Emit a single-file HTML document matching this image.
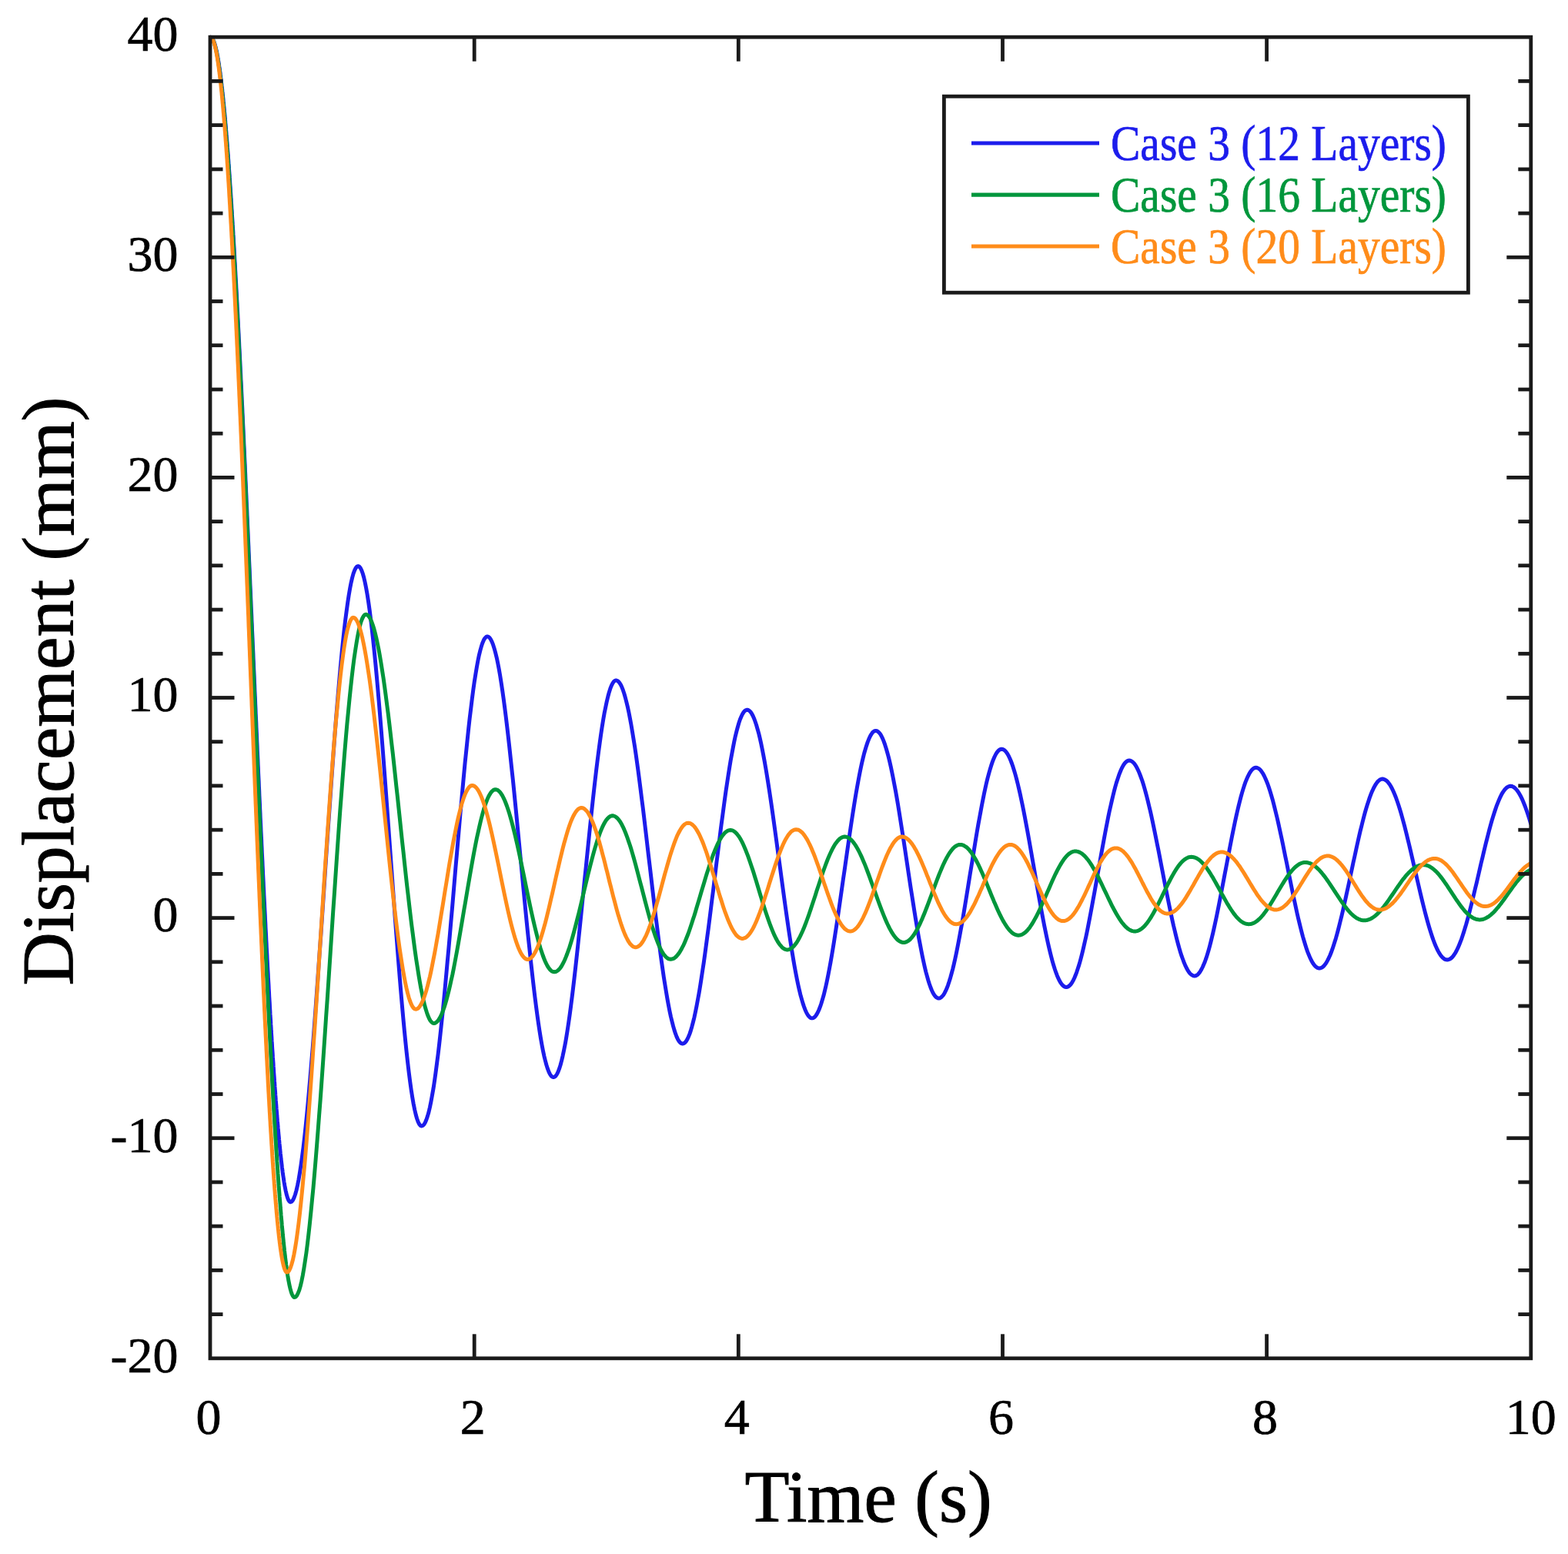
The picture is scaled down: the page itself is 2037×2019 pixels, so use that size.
<!DOCTYPE html>
<html><head><meta charset="utf-8"><title>Displacement vs Time</title>
<style>html,body{margin:0;padding:0;background:#fff;}body{width:2037px;height:2019px;overflow:hidden;}svg{display:block;}</style>
</head><body>
<svg width="2037" height="2019" viewBox="0 0 2037 2019">
<rect x="0" y="0" width="2037" height="2019" fill="#fff"/>
<defs><clipPath id="pc"><rect x="273.0" y="45.2" width="1715.8" height="1722.6"/></clipPath></defs>
<g clip-path="url(#pc)" fill="none" stroke-width="5" stroke-linejoin="round" stroke-linecap="round">
<polyline stroke="#1c1cec" points="273.0,48.2 273.3,48.2 273.5,48.3 273.8,48.3 274.0,48.4 274.3,48.6 274.6,48.8 274.8,49.0 275.1,49.2 275.3,49.5 275.6,49.8 275.9,50.2 276.1,50.6 276.4,51.0 276.7,51.5 276.9,52.0 277.2,52.5 277.4,53.1 277.7,53.7 278.0,54.4 278.2,55.1 278.5,55.9 278.7,56.6 279.0,57.5 279.3,58.3 279.5,59.2 279.8,60.2 280.0,61.2 280.3,62.2 280.6,63.2 280.8,64.4 281.1,65.5 281.4,66.7 281.6,67.9 281.9,69.2 282.1,70.5 282.4,71.9 282.7,73.2 282.9,74.7 283.2,76.2 283.4,77.7 283.7,79.2 284.0,80.8 284.2,82.5 284.5,84.1 284.7,85.9 285.0,87.6 285.3,89.4 285.5,91.3 285.8,93.2 286.1,95.1 286.3,97.1 286.6,99.1 286.8,101.1 287.1,103.2 287.4,105.4 287.6,107.5 287.9,109.8 288.1,112.0 288.4,114.3 288.7,116.6 288.9,119.0 289.2,121.4 289.4,123.9 289.7,126.4 290.0,128.9 290.2,131.5 290.5,134.2 290.7,136.8 291.0,139.5 291.3,142.3 291.5,145.0 291.8,147.9 292.1,150.7 292.3,153.6 292.6,156.6 292.8,159.5 293.1,162.6 293.4,165.6 293.6,168.7 293.9,171.8 294.1,175.0 294.4,178.2 294.7,181.5 294.9,184.8 295.2,188.1 295.4,191.5 295.7,194.9 296.0,198.3 296.2,201.8 296.5,205.3 296.8,208.9 297.0,212.4 297.3,216.1 297.5,219.7 297.8,223.4 298.1,227.2 298.3,230.9 298.6,234.7 298.8,238.6 299.1,242.5 299.4,246.4 299.6,250.3 299.9,254.3 300.1,258.3 300.4,262.4 300.7,266.5 300.9,270.6 301.2,274.7 301.4,278.9 301.7,283.1 302.0,287.4 302.2,291.7 302.5,296.0 302.8,300.3 303.0,304.7 303.3,309.1 303.5,313.6 303.8,318.1 304.1,322.6 304.3,327.1 304.6,331.7 304.8,336.3 305.1,340.9 305.4,345.6 305.6,350.3 305.9,355.0 306.1,359.8 306.4,364.5 306.7,369.3 306.9,374.2 307.2,379.0 307.5,383.9 307.7,388.9 308.0,393.8 308.2,398.8 308.5,403.8 308.8,408.8 309.0,413.9 309.3,418.9 309.5,424.0 309.8,429.2 310.1,434.3 310.3,439.5 310.6,444.7 310.8,449.9 311.1,455.2 311.4,460.5 311.6,465.8 311.9,471.1 312.1,476.4 312.4,481.8 312.7,487.2 312.9,492.6 313.2,498.0 313.5,503.4 313.7,508.9 314.0,514.4 314.2,519.9 314.5,525.4 314.8,531.0 315.0,536.6 315.3,542.1 315.5,547.7 315.8,553.4 316.1,559.0 316.3,564.7 316.6,570.3 316.8,576.0 317.1,581.7 317.4,587.4 317.6,593.2 317.9,598.9 318.2,604.7 318.4,610.5 318.7,616.3 318.9,622.1 319.2,627.9 319.5,633.7 319.7,639.6 320.0,645.4 320.2,651.3 320.5,657.2 320.8,663.0 321.0,668.9 321.3,674.9 321.5,680.8 321.8,686.7 322.1,692.6 322.3,698.6 322.6,704.6 322.9,710.5 323.1,716.5 323.4,722.5 323.6,728.4 323.9,734.4 324.2,740.4 324.4,746.4 324.7,752.4 324.9,758.5 325.2,764.5 325.5,770.5 325.7,776.5 326.0,782.6 326.2,788.6 326.5,794.6 326.8,800.7 327.0,806.7 327.3,812.7 327.5,818.8 327.8,824.8 328.1,830.9 328.3,836.9 328.6,842.9 328.9,849.0 329.1,855.0 329.4,861.0 329.6,867.1 329.9,873.1 330.2,879.1 330.4,885.2 330.7,891.2 330.9,897.2 331.2,903.2 331.5,909.2 331.7,915.2 332.0,921.2 332.2,927.2 332.5,933.2 332.8,939.2 333.0,945.1 333.3,951.1 333.6,957.0 333.8,963.0 334.1,968.9 334.3,974.9 334.6,980.8 334.9,986.7 335.1,992.6 335.4,998.5 335.6,1004.3 335.9,1010.2 336.2,1016.0 336.4,1021.9 336.7,1027.7 336.9,1033.5 337.2,1039.3 337.5,1045.1 337.7,1050.9 338.0,1056.6 338.2,1062.4 338.5,1068.1 338.8,1073.8 339.0,1079.5 339.3,1085.2 339.6,1090.8 339.8,1096.5 340.1,1102.1 340.3,1107.7 340.6,1113.3 340.9,1118.9 341.1,1124.4 341.4,1129.9 341.6,1135.4 341.9,1140.9 342.2,1146.4 342.4,1151.8 342.7,1157.3 342.9,1162.7 343.2,1168.0 343.5,1173.4 343.7,1178.7 344.0,1184.0 344.3,1189.3 344.5,1194.6 344.8,1199.8 345.0,1205.0 345.3,1210.2 345.6,1215.4 345.8,1220.5 346.1,1225.6 346.3,1230.7 346.6,1235.8 346.9,1240.8 347.1,1245.8 347.4,1250.8 347.6,1255.7 347.9,1260.6 348.2,1265.5 348.4,1270.4 348.7,1275.2 349.0,1280.0 349.2,1284.8 349.5,1289.5 349.7,1294.2 350.0,1298.9 350.3,1303.5 350.5,1308.1 350.8,1312.7 351.0,1317.2 351.3,1321.7 351.6,1326.2 351.8,1330.7 352.1,1335.1 352.3,1339.5 352.6,1343.8 352.9,1348.1 353.1,1352.4 353.4,1356.6 353.6,1360.8 353.9,1365.0 354.2,1369.1 354.4,1373.2 354.7,1377.2 355.0,1381.2 355.2,1385.2 355.5,1389.2 355.7,1393.1 356.0,1396.9 356.3,1400.7 356.5,1404.5 356.8,1408.3 357.0,1412.0 357.3,1415.7 357.6,1419.3 357.8,1422.9 358.1,1426.4 358.3,1429.9 358.6,1433.4 358.9,1436.8 359.1,1440.2 359.4,1443.5 359.7,1446.8 359.9,1450.1 360.2,1453.3 360.4,1456.4 360.7,1459.6 361.0,1462.7 361.2,1465.7 361.5,1468.7 361.7,1471.6 362.0,1474.5 362.3,1477.4 362.5,1480.2 362.8,1483.0 363.0,1485.7 363.3,1488.4 363.6,1491.0 363.8,1493.6 364.1,1496.2 364.3,1498.7 364.6,1501.1 364.9,1503.5 365.1,1505.9 365.4,1508.2 365.7,1510.5 365.9,1512.7 366.2,1514.9 366.4,1517.0 366.7,1519.1 367.0,1521.1 367.2,1523.1 367.5,1525.0 367.7,1526.9 368.0,1528.7 368.3,1530.5 368.5,1532.3 368.8,1534.0 369.0,1535.6 369.3,1537.2 369.6,1538.7 369.8,1540.2 370.1,1541.7 370.4,1543.1 370.6,1544.4 370.9,1545.7 371.1,1547.0 371.4,1548.2 371.7,1549.3 371.9,1550.4 372.2,1551.5 372.4,1552.5 372.7,1553.4 373.0,1554.3 373.2,1555.1 373.5,1555.9 373.7,1556.7 374.0,1557.4 374.3,1558.0 374.5,1558.6 374.8,1559.1 375.1,1559.6 375.3,1560.1 375.6,1560.4 375.8,1560.8 376.1,1561.1 376.4,1561.3 376.6,1561.5 376.9,1561.6 377.1,1561.7 377.4,1561.7 378.9,1561.1 380.4,1559.3 381.9,1556.3 383.5,1552.0 385.0,1546.6 386.5,1540.1 388.0,1532.4 389.5,1523.5 391.0,1513.6 392.5,1502.6 394.1,1490.5 395.6,1477.5 397.1,1463.4 398.6,1448.5 400.1,1432.7 401.6,1416.0 403.1,1398.6 404.6,1380.4 406.2,1361.6 407.7,1342.1 409.2,1322.1 410.7,1301.5 412.2,1280.5 413.7,1259.1 415.2,1237.4 416.8,1215.4 418.3,1193.3 419.8,1171.0 421.3,1148.6 422.8,1126.2 424.3,1103.9 425.8,1081.8 427.4,1059.8 428.9,1038.1 430.4,1016.7 431.9,995.7 433.4,975.1 434.9,955.1 436.4,935.6 438.0,916.8 439.5,898.6 441.0,881.2 442.5,864.5 444.0,848.7 445.5,833.8 447.0,819.7 448.5,806.7 450.1,794.6 451.6,783.6 453.1,773.7 454.6,764.8 456.1,757.1 457.6,750.6 459.1,745.2 460.7,740.9 462.2,737.9 463.7,736.1 465.2,735.5 466.7,736.1 468.2,737.9 469.7,740.8 471.2,745.0 472.7,750.2 474.2,756.7 475.7,764.2 477.2,772.8 478.7,782.5 480.2,793.2 481.7,805.0 483.2,817.7 484.7,831.3 486.2,845.7 487.7,861.0 489.2,877.1 490.7,893.9 492.2,911.4 493.7,929.5 495.2,948.1 496.7,967.3 498.2,986.8 499.7,1006.8 501.2,1027.0 502.7,1047.5 504.2,1068.1 505.7,1088.9 507.2,1109.6 508.7,1130.4 510.2,1151.0 511.7,1171.5 513.2,1191.7 514.7,1211.7 516.2,1231.2 517.7,1250.4 519.2,1269.0 520.7,1287.1 522.2,1304.6 523.7,1321.4 525.2,1337.5 526.7,1352.8 528.2,1367.2 529.7,1380.8 531.2,1393.5 532.7,1405.3 534.2,1416.0 535.7,1425.7 537.2,1434.3 538.7,1441.8 540.2,1448.3 541.7,1453.5 543.2,1457.7 544.7,1460.6 546.2,1462.4 547.7,1463.0 549.2,1462.5 550.8,1461.0 552.3,1458.5 553.8,1455.0 555.3,1450.6 556.9,1445.2 558.4,1438.8 559.9,1431.5 561.4,1423.3 563.0,1414.3 564.5,1404.3 566.0,1393.6 567.5,1382.1 569.1,1369.8 570.6,1356.9 572.1,1343.3 573.6,1329.0 575.2,1314.2 576.7,1298.8 578.2,1282.9 579.7,1266.7 581.2,1250.0 582.8,1233.0 584.3,1215.7 585.8,1198.2 587.4,1180.6 588.9,1162.8 590.4,1145.0 591.9,1127.1 593.5,1109.3 595.0,1091.7 596.5,1074.2 598.0,1056.9 599.6,1039.9 601.1,1023.2 602.6,1007.0 604.1,991.1 605.7,975.7 607.2,960.9 608.7,946.6 610.2,933.0 611.8,920.1 613.3,907.8 614.8,896.3 616.3,885.6 617.9,875.6 619.4,866.6 620.9,858.4 622.4,851.1 624.0,844.7 625.5,839.3 627.0,834.9 628.5,831.4 630.1,828.9 631.6,827.4 633.1,826.9 634.6,827.3 636.1,828.6 637.6,830.8 639.1,833.8 640.6,837.7 642.1,842.4 643.6,847.9 645.2,854.3 646.7,861.4 648.2,869.3 649.7,877.9 651.2,887.3 652.7,897.3 654.2,908.0 655.7,919.3 657.2,931.2 658.7,943.6 660.2,956.6 661.7,970.0 663.2,983.9 664.7,998.2 666.3,1012.8 667.8,1027.7 669.3,1042.9 670.8,1058.3 672.3,1073.9 673.8,1089.6 675.3,1105.3 676.8,1121.1 678.3,1136.8 679.8,1152.5 681.3,1168.1 682.8,1183.5 684.3,1198.7 685.8,1213.6 687.4,1228.2 688.9,1242.5 690.4,1256.3 691.9,1269.8 693.4,1282.8 694.9,1295.2 696.4,1307.1 697.9,1318.4 699.4,1329.1 700.9,1339.1 702.4,1348.5 703.9,1357.1 705.4,1365.0 706.9,1372.1 708.5,1378.5 710.0,1384.0 711.5,1388.7 713.0,1392.6 714.5,1395.6 716.0,1397.8 717.5,1399.1 719.0,1399.5 720.5,1399.1 722.0,1397.8 723.5,1395.6 725.0,1392.6 726.5,1388.7 728.0,1384.0 729.5,1378.4 731.0,1372.1 732.5,1365.0 734.1,1357.1 735.6,1348.5 737.1,1339.2 738.6,1329.2 740.1,1318.6 741.6,1307.4 743.1,1295.6 744.6,1283.4 746.1,1270.6 747.6,1257.4 749.1,1243.8 750.6,1229.9 752.1,1215.6 753.6,1201.2 755.1,1186.5 756.6,1171.6 758.1,1156.7 759.6,1141.7 761.2,1126.7 762.7,1111.8 764.2,1096.9 765.7,1082.2 767.2,1067.8 768.7,1053.5 770.2,1039.6 771.7,1026.0 773.2,1012.8 774.7,1000.0 776.2,987.8 777.7,976.0 779.2,964.8 780.7,954.2 782.2,944.2 783.7,934.9 785.2,926.3 786.8,918.4 788.3,911.3 789.8,905.0 791.3,899.4 792.8,894.7 794.3,890.8 795.8,887.8 797.3,885.6 798.8,884.3 800.3,883.9 801.8,884.3 803.3,885.3 804.8,887.1 806.4,889.6 807.9,892.8 809.4,896.7 810.9,901.3 812.4,906.5 813.9,912.4 815.5,918.9 817.0,926.0 818.5,933.7 820.0,941.9 821.5,950.8 823.0,960.1 824.6,969.9 826.1,980.2 827.6,990.8 829.1,1001.9 830.6,1013.4 832.1,1025.1 833.6,1037.2 835.2,1049.5 836.7,1062.0 838.2,1074.7 839.7,1087.5 841.2,1100.5 842.7,1113.4 844.3,1126.5 845.8,1139.4 847.3,1152.4 848.8,1165.2 850.3,1177.9 851.8,1190.4 853.4,1202.7 854.9,1214.8 856.4,1226.5 857.9,1238.0 859.4,1249.1 860.9,1259.7 862.4,1270.0 864.0,1279.8 865.5,1289.1 867.0,1298.0 868.5,1306.2 870.0,1313.9 871.5,1321.0 873.1,1327.5 874.6,1333.4 876.1,1338.6 877.6,1343.2 879.1,1347.1 880.6,1350.3 882.2,1352.8 883.7,1354.6 885.2,1355.6 886.7,1356.0 888.2,1355.6 889.8,1354.6 891.3,1352.8 892.8,1350.4 894.3,1347.2 895.9,1343.4 897.4,1338.9 898.9,1333.7 900.4,1328.0 902.0,1321.6 903.5,1314.6 905.0,1307.0 906.5,1298.9 908.1,1290.3 909.6,1281.1 911.1,1271.5 912.6,1261.5 914.2,1251.1 915.7,1240.3 917.2,1229.2 918.7,1217.8 920.3,1206.1 921.8,1194.2 923.3,1182.2 924.8,1170.0 926.4,1157.7 927.9,1145.3 929.4,1132.9 930.9,1120.5 932.5,1108.2 934.0,1096.0 935.5,1084.0 937.0,1072.1 938.6,1060.4 940.1,1049.0 941.6,1037.9 943.1,1027.1 944.7,1016.7 946.2,1006.7 947.7,997.1 949.2,987.9 950.8,979.3 952.3,971.2 953.8,963.6 955.3,956.6 956.9,950.2 958.4,944.5 959.9,939.3 961.4,934.8 963.0,931.0 964.5,927.8 966.0,925.4 967.5,923.6 969.1,922.6 970.6,922.2 972.1,922.5 973.6,923.5 975.1,925.0 976.6,927.2 978.1,930.0 979.6,933.4 981.1,937.5 982.6,942.0 984.1,947.2 985.7,952.9 987.2,959.2 988.7,965.9 990.2,973.2 991.7,980.9 993.2,989.0 994.7,997.6 996.2,1006.6 997.7,1016.0 999.2,1025.6 1000.7,1035.6 1002.2,1045.9 1003.7,1056.4 1005.2,1067.1 1006.7,1078.0 1008.2,1089.0 1009.7,1100.1 1011.2,1111.3 1012.8,1122.5 1014.3,1133.8 1015.8,1145.0 1017.3,1156.1 1018.8,1167.1 1020.3,1178.0 1021.8,1188.7 1023.3,1199.2 1024.8,1209.5 1026.3,1219.5 1027.8,1229.1 1029.3,1238.5 1030.8,1247.5 1032.3,1256.1 1033.8,1264.2 1035.3,1271.9 1036.8,1279.2 1038.3,1285.9 1039.8,1292.2 1041.4,1297.9 1042.9,1303.1 1044.4,1307.6 1045.9,1311.7 1047.4,1315.1 1048.9,1317.9 1050.4,1320.1 1051.9,1321.6 1053.4,1322.6 1054.9,1322.9 1056.4,1322.6 1057.9,1321.7 1059.4,1320.2 1060.9,1318.0 1062.4,1315.3 1063.9,1312.0 1065.4,1308.2 1066.9,1303.7 1068.4,1298.8 1070.0,1293.3 1071.5,1287.2 1073.0,1280.7 1074.5,1273.7 1076.0,1266.3 1077.5,1258.4 1079.0,1250.2 1080.5,1241.6 1082.0,1232.6 1083.5,1223.3 1085.0,1213.7 1086.5,1203.9 1088.0,1193.9 1089.5,1183.6 1091.0,1173.2 1092.5,1162.7 1094.0,1152.1 1095.5,1141.5 1097.1,1130.8 1098.6,1120.2 1100.1,1109.6 1101.6,1099.1 1103.1,1088.7 1104.6,1078.4 1106.1,1068.4 1107.6,1058.6 1109.1,1049.0 1110.6,1039.7 1112.1,1030.7 1113.6,1022.1 1115.1,1013.9 1116.6,1006.0 1118.1,998.6 1119.6,991.6 1121.1,985.1 1122.6,979.0 1124.2,973.5 1125.7,968.6 1127.2,964.1 1128.7,960.3 1130.2,957.0 1131.7,954.3 1133.2,952.1 1134.7,950.6 1136.2,949.7 1137.7,949.4 1139.2,949.7 1140.7,950.6 1142.2,952.0 1143.8,954.1 1145.3,956.7 1146.8,959.9 1148.3,963.6 1149.8,967.9 1151.3,972.7 1152.8,978.0 1154.4,983.8 1155.9,990.1 1157.4,996.8 1158.9,1003.9 1160.4,1011.5 1161.9,1019.4 1163.5,1027.7 1165.0,1036.3 1166.5,1045.2 1168.0,1054.4 1169.5,1063.8 1171.0,1073.4 1172.5,1083.1 1174.1,1093.0 1175.6,1103.0 1177.1,1113.1 1178.6,1123.2 1180.1,1133.3 1181.6,1143.4 1183.1,1153.4 1184.7,1163.3 1186.2,1173.0 1187.7,1182.6 1189.2,1192.0 1190.7,1201.2 1192.2,1210.1 1193.7,1218.7 1195.3,1227.0 1196.8,1234.9 1198.3,1242.5 1199.8,1249.6 1201.3,1256.3 1202.8,1262.6 1204.4,1268.4 1205.9,1273.7 1207.4,1278.5 1208.9,1282.8 1210.4,1286.5 1211.9,1289.7 1213.4,1292.3 1215.0,1294.4 1216.5,1295.8 1218.0,1296.7 1219.5,1297.0 1221.0,1296.7 1222.5,1295.9 1224.0,1294.5 1225.6,1292.6 1227.1,1290.2 1228.6,1287.2 1230.1,1283.8 1231.6,1279.8 1233.1,1275.3 1234.6,1270.4 1236.1,1265.0 1237.7,1259.1 1239.2,1252.9 1240.7,1246.2 1242.2,1239.2 1243.7,1231.8 1245.2,1224.1 1246.7,1216.0 1248.2,1207.8 1249.8,1199.2 1251.3,1190.5 1252.8,1181.5 1254.3,1172.4 1255.8,1163.2 1257.3,1153.9 1258.8,1144.5 1260.3,1135.1 1261.9,1125.7 1263.4,1116.3 1264.9,1107.0 1266.4,1097.8 1267.9,1088.7 1269.4,1079.7 1270.9,1071.0 1272.5,1062.4 1274.0,1054.2 1275.5,1046.1 1277.0,1038.4 1278.5,1031.0 1280.0,1024.0 1281.5,1017.3 1283.0,1011.1 1284.6,1005.2 1286.1,999.8 1287.6,994.9 1289.1,990.4 1290.6,986.4 1292.1,983.0 1293.6,980.0 1295.1,977.6 1296.7,975.7 1298.2,974.3 1299.7,973.5 1301.2,973.2 1302.7,973.4 1304.2,974.2 1305.7,975.4 1307.2,977.1 1308.7,979.2 1310.2,981.9 1311.7,985.0 1313.2,988.5 1314.7,992.5 1316.2,996.9 1317.7,1001.7 1319.2,1006.9 1320.7,1012.5 1322.2,1018.5 1323.7,1024.8 1325.2,1031.4 1326.7,1038.4 1328.2,1045.6 1329.7,1053.0 1331.2,1060.7 1332.7,1068.7 1334.2,1076.8 1335.7,1085.0 1337.2,1093.4 1338.7,1101.9 1340.2,1110.5 1341.7,1119.2 1343.2,1127.8 1344.7,1136.5 1346.2,1145.2 1347.7,1153.8 1349.2,1162.3 1350.7,1170.7 1352.2,1178.9 1353.7,1187.0 1355.2,1195.0 1356.7,1202.7 1358.2,1210.1 1359.7,1217.3 1361.2,1224.3 1362.7,1230.9 1364.2,1237.2 1365.7,1243.2 1367.2,1248.8 1368.7,1254.0 1370.2,1258.8 1371.7,1263.2 1373.2,1267.2 1374.7,1270.7 1376.2,1273.8 1377.7,1276.5 1379.2,1278.6 1380.7,1280.3 1382.2,1281.5 1383.7,1282.3 1385.2,1282.5 1386.7,1282.3 1388.2,1281.5 1389.7,1280.3 1391.3,1278.5 1392.8,1276.3 1394.3,1273.6 1395.8,1270.5 1397.3,1266.8 1398.8,1262.8 1400.3,1258.3 1401.9,1253.4 1403.4,1248.1 1404.9,1242.4 1406.4,1236.3 1407.9,1229.9 1409.4,1223.2 1411.0,1216.2 1412.5,1208.9 1414.0,1201.3 1415.5,1193.6 1417.0,1185.6 1418.5,1177.5 1420.0,1169.2 1421.6,1160.8 1423.1,1152.3 1424.6,1143.8 1426.1,1135.2 1427.6,1126.7 1429.1,1118.2 1430.6,1109.7 1432.2,1101.3 1433.7,1093.0 1435.2,1084.9 1436.7,1076.9 1438.2,1069.2 1439.7,1061.6 1441.2,1054.3 1442.8,1047.3 1444.3,1040.6 1445.8,1034.2 1447.3,1028.1 1448.8,1022.4 1450.3,1017.1 1451.9,1012.2 1453.4,1007.7 1454.9,1003.7 1456.4,1000.0 1457.9,996.9 1459.4,994.2 1460.9,992.0 1462.5,990.2 1464.0,989.0 1465.5,988.2 1467.0,988.0 1468.5,988.2 1470.0,988.9 1471.5,990.0 1473.1,991.5 1474.6,993.5 1476.1,995.9 1477.6,998.7 1479.1,1001.9 1480.6,1005.5 1482.1,1009.5 1483.7,1013.8 1485.2,1018.5 1486.7,1023.6 1488.2,1029.0 1489.7,1034.7 1491.2,1040.7 1492.7,1047.0 1494.3,1053.5 1495.8,1060.3 1497.3,1067.3 1498.8,1074.4 1500.3,1081.8 1501.8,1089.2 1503.3,1096.8 1504.9,1104.5 1506.4,1112.3 1507.9,1120.2 1509.4,1128.0 1510.9,1135.8 1512.4,1143.7 1513.9,1151.5 1515.5,1159.2 1517.0,1166.8 1518.5,1174.2 1520.0,1181.6 1521.5,1188.7 1523.0,1195.7 1524.5,1202.5 1526.1,1209.0 1527.6,1215.3 1529.1,1221.3 1530.6,1227.0 1532.1,1232.4 1533.6,1237.5 1535.1,1242.2 1536.7,1246.5 1538.2,1250.5 1539.7,1254.1 1541.2,1257.3 1542.7,1260.1 1544.2,1262.5 1545.7,1264.5 1547.3,1266.0 1548.8,1267.1 1550.3,1267.8 1551.8,1268.0 1553.3,1267.8 1554.8,1267.0 1556.3,1265.9 1557.8,1264.2 1559.3,1262.1 1560.8,1259.5 1562.3,1256.5 1563.8,1253.1 1565.4,1249.2 1566.9,1244.9 1568.4,1240.2 1569.9,1235.2 1571.4,1229.8 1572.9,1224.0 1574.4,1217.9 1575.9,1211.6 1577.4,1204.9 1578.9,1198.0 1580.4,1190.9 1581.9,1183.5 1583.4,1176.0 1584.9,1168.3 1586.4,1160.5 1587.9,1152.6 1589.4,1144.7 1590.9,1136.7 1592.5,1128.6 1594.0,1120.6 1595.5,1112.7 1597.0,1104.8 1598.5,1097.0 1600.0,1089.3 1601.5,1081.8 1603.0,1074.4 1604.5,1067.3 1606.0,1060.4 1607.5,1053.7 1609.0,1047.4 1610.5,1041.3 1612.0,1035.5 1613.5,1030.1 1615.0,1025.1 1616.5,1020.4 1618.0,1016.1 1619.6,1012.2 1621.1,1008.8 1622.6,1005.8 1624.1,1003.2 1625.6,1001.1 1627.1,999.4 1628.6,998.3 1630.1,997.5 1631.6,997.3 1633.1,997.5 1634.7,998.2 1636.2,999.3 1637.7,1000.8 1639.2,1002.8 1640.8,1005.2 1642.3,1008.0 1643.8,1011.2 1645.3,1014.8 1646.9,1018.7 1648.4,1023.1 1649.9,1027.8 1651.4,1032.8 1653.0,1038.2 1654.5,1043.9 1656.0,1049.8 1657.5,1056.0 1659.1,1062.5 1660.6,1069.1 1662.1,1076.0 1663.6,1083.1 1665.2,1090.3 1666.7,1097.6 1668.2,1105.0 1669.7,1112.5 1671.3,1120.1 1672.8,1127.6 1674.3,1135.2 1675.9,1142.8 1677.4,1150.3 1678.9,1157.7 1680.4,1165.0 1682.0,1172.2 1683.5,1179.3 1685.0,1186.2 1686.5,1192.8 1688.1,1199.3 1689.6,1205.5 1691.1,1211.4 1692.6,1217.1 1694.2,1222.5 1695.7,1227.5 1697.2,1232.2 1698.7,1236.6 1700.3,1240.5 1701.8,1244.1 1703.3,1247.3 1704.8,1250.1 1706.4,1252.5 1707.9,1254.5 1709.4,1256.0 1710.9,1257.1 1712.5,1257.8 1714.0,1258.0 1715.5,1257.8 1717.0,1257.2 1718.6,1256.1 1720.1,1254.7 1721.6,1252.8 1723.1,1250.6 1724.6,1247.9 1726.1,1244.9 1727.7,1241.5 1729.2,1237.8 1730.7,1233.7 1732.2,1229.2 1733.7,1224.5 1735.3,1219.4 1736.8,1214.1 1738.3,1208.5 1739.8,1202.6 1741.3,1196.5 1742.9,1190.2 1744.4,1183.7 1745.9,1177.1 1747.4,1170.3 1748.9,1163.4 1750.4,1156.4 1752.0,1149.3 1753.5,1142.2 1755.0,1135.0 1756.5,1127.9 1758.0,1120.8 1759.6,1113.7 1761.1,1106.7 1762.6,1099.8 1764.1,1093.0 1765.6,1086.4 1767.1,1079.9 1768.7,1073.6 1770.2,1067.5 1771.7,1061.6 1773.2,1056.0 1774.7,1050.7 1776.3,1045.6 1777.8,1040.9 1779.3,1036.4 1780.8,1032.3 1782.3,1028.6 1783.9,1025.2 1785.4,1022.2 1786.9,1019.5 1788.4,1017.3 1789.9,1015.4 1791.4,1014.0 1793.0,1012.9 1794.5,1012.3 1796.0,1012.1 1797.5,1012.3 1799.0,1012.8 1800.5,1013.8 1802.0,1015.0 1803.5,1016.7 1805.0,1018.7 1806.5,1021.0 1808.0,1023.7 1809.5,1026.8 1811.0,1030.1 1812.5,1033.8 1814.0,1037.7 1815.5,1042.0 1817.0,1046.5 1818.5,1051.3 1820.0,1056.3 1821.5,1061.6 1823.0,1067.1 1824.5,1072.7 1826.0,1078.6 1827.5,1084.6 1829.0,1090.8 1830.5,1097.0 1832.0,1103.4 1833.5,1109.9 1835.0,1116.4 1836.5,1123.0 1838.0,1129.5 1839.6,1136.1 1841.1,1142.7 1842.6,1149.2 1844.1,1155.7 1845.6,1162.1 1847.1,1168.3 1848.6,1174.5 1850.1,1180.5 1851.6,1186.4 1853.1,1192.0 1854.6,1197.5 1856.1,1202.8 1857.6,1207.8 1859.1,1212.6 1860.6,1217.1 1862.1,1221.4 1863.6,1225.3 1865.1,1229.0 1866.6,1232.3 1868.1,1235.4 1869.6,1238.1 1871.1,1240.4 1872.6,1242.4 1874.1,1244.1 1875.6,1245.3 1877.1,1246.3 1878.6,1246.8 1880.1,1247.0 1881.6,1246.8 1883.1,1246.2 1884.7,1245.3 1886.2,1244.0 1887.7,1242.3 1889.2,1240.2 1890.8,1237.8 1892.3,1235.0 1893.8,1231.9 1895.3,1228.4 1896.8,1224.7 1898.4,1220.6 1899.9,1216.2 1901.4,1211.6 1902.9,1206.7 1904.5,1201.5 1906.0,1196.2 1907.5,1190.6 1909.0,1184.8 1910.5,1178.8 1912.1,1172.7 1913.6,1166.5 1915.1,1160.2 1916.6,1153.7 1918.2,1147.3 1919.7,1140.7 1921.2,1134.2 1922.7,1127.6 1924.2,1121.0 1925.8,1114.6 1927.3,1108.1 1928.8,1101.8 1930.3,1095.6 1931.9,1089.5 1933.4,1083.5 1934.9,1077.7 1936.4,1072.1 1937.9,1066.8 1939.5,1061.6 1941.0,1056.7 1942.5,1052.1 1944.0,1047.7 1945.6,1043.6 1947.1,1039.9 1948.6,1036.4 1950.1,1033.3 1951.6,1030.5 1953.2,1028.1 1954.7,1026.0 1956.2,1024.3 1957.7,1023.0 1959.3,1022.1 1960.8,1021.5 1962.3,1021.3 1963.7,1021.4 1965.0,1021.9 1966.4,1022.6 1967.8,1023.6 1969.1,1024.9 1970.5,1026.4 1971.9,1028.3 1973.3,1030.4 1974.6,1032.7 1976.0,1035.3 1977.4,1038.2 1978.7,1041.3 1980.1,1044.7 1981.5,1048.2 1982.8,1052.0 1984.2,1056.0 1985.6,1060.1 1987.0,1064.5 1988.3,1069.0 1988.8,1070.6"/>
<polyline stroke="#00963c" points="273.0,48.2 273.3,48.2 273.5,48.3 273.8,48.4 274.1,48.5 274.4,48.7 274.6,48.9 274.9,49.2 275.2,49.5 275.5,49.8 275.7,50.2 276.0,50.7 276.3,51.1 276.6,51.7 276.8,52.2 277.1,52.9 277.4,53.5 277.7,54.2 277.9,55.0 278.2,55.8 278.5,56.6 278.8,57.5 279.0,58.4 279.3,59.4 279.6,60.5 279.9,61.5 280.1,62.6 280.4,63.8 280.7,65.0 281.0,66.3 281.2,67.6 281.5,68.9 281.8,70.3 282.1,71.8 282.3,73.2 282.6,74.8 282.9,76.4 283.1,78.0 283.4,79.7 283.7,81.4 284.0,83.1 284.2,84.9 284.5,86.8 284.8,88.7 285.1,90.6 285.3,92.6 285.6,94.7 285.9,96.8 286.2,98.9 286.4,101.1 286.7,103.3 287.0,105.6 287.3,107.9 287.5,110.2 287.8,112.6 288.1,115.1 288.4,117.6 288.6,120.1 288.9,122.7 289.2,125.3 289.5,128.0 289.7,130.7 290.0,133.5 290.3,136.3 290.6,139.1 290.8,142.0 291.1,144.9 291.4,147.9 291.6,151.0 291.9,154.0 292.2,157.1 292.5,160.3 292.7,163.5 293.0,166.7 293.3,170.0 293.6,173.3 293.8,176.7 294.1,180.1 294.4,183.6 294.7,187.1 294.9,190.6 295.2,194.2 295.5,197.8 295.8,201.4 296.0,205.1 296.3,208.9 296.6,212.7 296.9,216.5 297.1,220.4 297.4,224.3 297.7,228.2 298.0,232.2 298.2,236.2 298.5,240.3 298.8,244.4 299.1,248.5 299.3,252.7 299.6,256.9 299.9,261.1 300.2,265.4 300.4,269.8 300.7,274.1 301.0,278.5 301.2,283.0 301.5,287.4 301.8,291.9 302.1,296.5 302.3,301.1 302.6,305.7 302.9,310.3 303.2,315.0 303.4,319.8 303.7,324.5 304.0,329.3 304.3,334.1 304.5,339.0 304.8,343.9 305.1,348.8 305.4,353.8 305.6,358.8 305.9,363.8 306.2,368.8 306.5,373.9 306.7,379.0 307.0,384.2 307.3,389.4 307.6,394.6 307.8,399.8 308.1,405.1 308.4,410.4 308.7,415.7 308.9,421.1 309.2,426.5 309.5,431.9 309.7,437.3 310.0,442.8 310.3,448.3 310.6,453.8 310.8,459.4 311.1,464.9 311.4,470.5 311.7,476.2 311.9,481.8 312.2,487.5 312.5,493.2 312.8,498.9 313.0,504.7 313.3,510.5 313.6,516.3 313.9,522.1 314.1,527.9 314.4,533.8 314.7,539.7 315.0,545.6 315.2,551.5 315.5,557.5 315.8,563.4 316.1,569.4 316.3,575.4 316.6,581.4 316.9,587.5 317.2,593.6 317.4,599.6 317.7,605.7 318.0,611.9 318.3,618.0 318.5,624.2 318.8,630.3 319.1,636.5 319.3,642.7 319.6,648.9 319.9,655.1 320.2,661.4 320.4,667.6 320.7,673.9 321.0,680.2 321.3,686.5 321.5,692.8 321.8,699.1 322.1,705.5 322.4,711.8 322.6,718.2 322.9,724.5 323.2,730.9 323.5,737.3 323.7,743.7 324.0,750.1 324.3,756.5 324.6,762.9 324.8,769.3 325.1,775.8 325.4,782.2 325.7,788.6 325.9,795.1 326.2,801.6 326.5,808.0 326.8,814.5 327.0,821.0 327.3,827.4 327.6,833.9 327.9,840.4 328.1,846.9 328.4,853.4 328.7,859.8 328.9,866.3 329.2,872.8 329.5,879.3 329.8,885.8 330.0,892.3 330.3,898.8 330.6,905.3 330.9,911.8 331.1,918.3 331.4,924.7 331.7,931.2 332.0,937.7 332.2,944.2 332.5,950.6 332.8,957.1 333.1,963.6 333.3,970.0 333.6,976.5 333.9,982.9 334.2,989.4 334.4,995.8 334.7,1002.2 335.0,1008.6 335.3,1015.0 335.5,1021.4 335.8,1027.8 336.1,1034.2 336.4,1040.6 336.6,1046.9 336.9,1053.3 337.2,1059.6 337.4,1066.0 337.7,1072.3 338.0,1078.6 338.3,1084.9 338.5,1091.1 338.8,1097.4 339.1,1103.7 339.4,1109.9 339.6,1116.1 339.9,1122.3 340.2,1128.5 340.5,1134.7 340.7,1140.8 341.0,1147.0 341.3,1153.1 341.6,1159.2 341.8,1165.3 342.1,1171.4 342.4,1177.4 342.7,1183.5 342.9,1189.5 343.2,1195.5 343.5,1201.5 343.8,1207.4 344.0,1213.3 344.3,1219.3 344.6,1225.1 344.9,1231.0 345.1,1236.9 345.4,1242.7 345.7,1248.5 346.0,1254.3 346.2,1260.0 346.5,1265.7 346.8,1271.4 347.0,1277.1 347.3,1282.8 347.6,1288.4 347.9,1294.0 348.1,1299.6 348.4,1305.1 348.7,1310.6 349.0,1316.1 349.2,1321.6 349.5,1327.0 349.8,1332.4 350.1,1337.8 350.3,1343.1 350.6,1348.4 350.9,1353.7 351.2,1359.0 351.4,1364.2 351.7,1369.4 352.0,1374.6 352.3,1379.7 352.5,1384.8 352.8,1389.8 353.1,1394.9 353.4,1399.9 353.6,1404.8 353.9,1409.8 354.2,1414.7 354.5,1419.5 354.7,1424.3 355.0,1429.1 355.3,1433.9 355.5,1438.6 355.8,1443.3 356.1,1447.9 356.4,1452.5 356.6,1457.1 356.9,1461.6 357.2,1466.1 357.5,1470.6 357.7,1475.0 358.0,1479.4 358.3,1483.7 358.6,1488.0 358.8,1492.3 359.1,1496.5 359.4,1500.7 359.7,1504.8 359.9,1508.9 360.2,1513.0 360.5,1517.0 360.8,1521.0 361.0,1524.9 361.3,1528.8 361.6,1532.7 361.9,1536.5 362.1,1540.2 362.4,1544.0 362.7,1547.6 363.0,1551.3 363.2,1554.9 363.5,1558.4 363.8,1561.9 364.1,1565.4 364.3,1568.8 364.6,1572.1 364.9,1575.5 365.1,1578.7 365.4,1582.0 365.7,1585.2 366.0,1588.3 366.2,1591.4 366.5,1594.4 366.8,1597.4 367.1,1600.4 367.3,1603.3 367.6,1606.1 367.9,1608.9 368.2,1611.7 368.4,1614.4 368.7,1617.1 369.0,1619.7 369.3,1622.3 369.5,1624.8 369.8,1627.2 370.1,1629.7 370.4,1632.0 370.6,1634.4 370.9,1636.6 371.2,1638.9 371.5,1641.0 371.7,1643.1 372.0,1645.2 372.3,1647.2 372.6,1649.2 372.8,1651.1 373.1,1653.0 373.4,1654.8 373.6,1656.6 373.9,1658.3 374.2,1660.0 374.5,1661.6 374.7,1663.1 375.0,1664.6 375.3,1666.1 375.6,1667.5 375.8,1668.8 376.1,1670.1 376.4,1671.4 376.7,1672.6 376.9,1673.7 377.2,1674.8 377.5,1675.9 377.8,1676.8 378.0,1677.8 378.3,1678.7 378.6,1679.5 378.9,1680.3 379.1,1681.0 379.4,1681.6 379.7,1682.3 380.0,1682.8 380.2,1683.3 380.5,1683.8 380.8,1684.2 381.1,1684.5 381.3,1684.8 381.6,1685.1 381.9,1685.3 382.2,1685.4 382.4,1685.5 382.7,1685.5 384.2,1684.9 385.7,1683.1 387.2,1680.2 388.8,1676.1 390.3,1670.9 391.8,1664.5 393.3,1657.0 394.8,1648.4 396.3,1638.7 397.9,1628.0 399.4,1616.2 400.9,1603.4 402.4,1589.7 403.9,1575.1 405.4,1559.6 407.0,1543.2 408.5,1526.0 410.0,1508.1 411.5,1489.5 413.0,1470.2 414.5,1450.4 416.1,1429.9 417.6,1409.0 419.1,1387.6 420.6,1365.8 422.1,1343.8 423.6,1321.4 425.2,1298.8 426.7,1276.1 428.2,1253.3 429.7,1230.4 431.2,1207.6 432.7,1184.9 434.3,1162.3 435.8,1139.9 437.3,1117.9 438.8,1096.1 440.3,1074.7 441.8,1053.8 443.4,1033.3 444.9,1013.5 446.4,994.2 447.9,975.6 449.4,957.7 450.9,940.5 452.5,924.1 454.0,908.6 455.5,894.0 457.0,880.3 458.5,867.5 460.0,855.7 461.6,845.0 463.1,835.3 464.6,826.7 466.1,819.2 467.6,812.8 469.1,807.6 470.7,803.5 472.2,800.6 473.7,798.8 475.2,798.2 476.7,798.6 478.2,799.8 479.8,801.7 481.3,804.4 482.8,807.9 484.3,812.1 485.9,817.1 487.4,822.8 488.9,829.1 490.4,836.2 492.0,844.0 493.5,852.4 495.0,861.4 496.5,871.0 498.1,881.2 499.6,891.9 501.1,903.1 502.6,914.8 504.2,926.9 505.7,939.4 507.2,952.3 508.7,965.5 510.3,979.0 511.8,992.8 513.3,1006.7 514.8,1020.9 516.4,1035.1 517.9,1049.5 519.4,1063.8 520.9,1078.2 522.4,1092.6 524.0,1106.8 525.5,1121.0 527.0,1134.9 528.5,1148.7 530.1,1162.2 531.6,1175.4 533.1,1188.3 534.6,1200.8 536.2,1212.9 537.7,1224.6 539.2,1235.8 540.7,1246.5 542.3,1256.7 543.8,1266.3 545.3,1275.3 546.8,1283.7 548.4,1291.5 549.9,1298.6 551.4,1304.9 552.9,1310.6 554.5,1315.6 556.0,1319.8 557.5,1323.3 559.0,1326.0 560.6,1327.9 562.1,1329.1 563.6,1329.5 565.1,1329.2 566.6,1328.4 568.1,1327.1 569.6,1325.3 571.1,1322.9 572.7,1320.0 574.2,1316.6 575.7,1312.7 577.2,1308.4 578.7,1303.6 580.2,1298.3 581.7,1292.7 583.2,1286.6 584.7,1280.1 586.2,1273.3 587.8,1266.2 589.3,1258.7 590.8,1250.9 592.3,1242.9 593.8,1234.7 595.3,1226.2 596.8,1217.6 598.3,1208.9 599.8,1200.0 601.3,1191.1 602.8,1182.1 604.4,1173.1 605.9,1164.1 607.4,1155.2 608.9,1146.3 610.4,1137.6 611.9,1129.0 613.4,1120.5 614.9,1112.3 616.4,1104.3 617.9,1096.5 619.4,1089.0 621.0,1081.9 622.5,1075.1 624.0,1068.6 625.5,1062.5 627.0,1056.9 628.5,1051.6 630.0,1046.8 631.5,1042.5 633.0,1038.6 634.5,1035.2 636.1,1032.3 637.6,1029.9 639.1,1028.1 640.6,1026.8 642.1,1026.0 643.6,1025.7 645.1,1025.9 646.6,1026.6 648.1,1027.7 649.6,1029.3 651.1,1031.3 652.6,1033.7 654.1,1036.6 655.6,1039.8 657.1,1043.5 658.6,1047.5 660.1,1051.9 661.6,1056.6 663.1,1061.7 664.6,1067.1 666.1,1072.8 667.6,1078.8 669.1,1085.0 670.6,1091.4 672.1,1098.0 673.6,1104.8 675.1,1111.8 676.6,1118.9 678.1,1126.1 679.6,1133.3 681.1,1140.6 682.6,1147.9 684.1,1155.2 685.6,1162.4 687.1,1169.6 688.6,1176.7 690.1,1183.7 691.6,1190.5 693.1,1197.1 694.6,1203.5 696.1,1209.7 697.6,1215.7 699.1,1221.4 700.6,1226.8 702.1,1231.9 703.6,1236.6 705.1,1241.0 706.6,1245.0 708.1,1248.7 709.6,1251.9 711.1,1254.8 712.6,1257.2 714.1,1259.2 715.6,1260.8 717.1,1261.9 718.6,1262.6 720.1,1262.8 721.6,1262.6 723.1,1262.0 724.6,1261.0 726.1,1259.6 727.7,1257.8 729.2,1255.7 730.7,1253.1 732.2,1250.2 733.7,1247.0 735.2,1243.4 736.7,1239.5 738.2,1235.3 739.8,1230.8 741.3,1226.0 742.8,1221.0 744.3,1215.7 745.8,1210.2 747.3,1204.5 748.8,1198.7 750.3,1192.7 751.9,1186.5 753.4,1180.3 754.9,1174.0 756.4,1167.7 757.9,1161.3 759.4,1154.9 760.9,1148.6 762.4,1142.3 763.9,1136.1 765.5,1129.9 767.0,1123.9 768.5,1118.1 770.0,1112.4 771.5,1106.9 773.0,1101.6 774.5,1096.6 776.0,1091.8 777.6,1087.3 779.1,1083.1 780.6,1079.2 782.1,1075.6 783.6,1072.4 785.1,1069.5 786.6,1066.9 788.1,1064.8 789.7,1063.0 791.2,1061.6 792.7,1060.6 794.2,1060.0 795.7,1059.8 797.2,1060.0 798.7,1060.5 800.2,1061.5 801.7,1062.7 803.2,1064.4 804.8,1066.3 806.3,1068.7 807.8,1071.3 809.3,1074.3 810.8,1077.6 812.3,1081.2 813.8,1085.1 815.3,1089.2 816.8,1093.6 818.4,1098.2 819.9,1103.1 821.4,1108.1 822.9,1113.3 824.4,1118.7 825.9,1124.2 827.4,1129.9 828.9,1135.6 830.4,1141.4 831.9,1147.2 833.5,1153.0 835.0,1158.9 836.5,1164.7 838.0,1170.5 839.5,1176.2 841.0,1181.9 842.5,1187.4 844.0,1192.8 845.5,1198.0 847.0,1203.0 848.6,1207.9 850.1,1212.5 851.6,1216.9 853.1,1221.0 854.6,1224.9 856.1,1228.5 857.6,1231.8 859.1,1234.8 860.6,1237.4 862.1,1239.8 863.7,1241.7 865.2,1243.4 866.7,1244.6 868.2,1245.6 869.7,1246.1 871.2,1246.3 872.7,1246.1 874.2,1245.7 875.8,1244.9 877.3,1243.8 878.8,1242.4 880.3,1240.6 881.9,1238.6 883.4,1236.3 884.9,1233.7 886.4,1230.9 888.0,1227.8 889.5,1224.4 891.0,1220.8 892.5,1217.0 894.1,1213.0 895.6,1208.7 897.1,1204.3 898.6,1199.8 900.1,1195.1 901.7,1190.3 903.2,1185.4 904.7,1180.3 906.2,1175.3 907.8,1170.1 909.3,1165.0 910.8,1159.8 912.3,1154.7 913.9,1149.5 915.4,1144.5 916.9,1139.4 918.4,1134.5 920.0,1129.7 921.5,1125.0 923.0,1120.5 924.5,1116.1 926.0,1111.8 927.6,1107.8 929.1,1104.0 930.6,1100.4 932.1,1097.0 933.7,1093.9 935.2,1091.1 936.7,1088.5 938.2,1086.2 939.8,1084.2 941.3,1082.4 942.8,1081.0 944.3,1079.9 945.9,1079.1 947.4,1078.7 948.9,1078.5 950.4,1078.7 951.9,1079.1 953.4,1079.9 954.9,1081.0 956.4,1082.5 957.9,1084.2 959.5,1086.2 961.0,1088.5 962.5,1091.1 964.0,1093.9 965.5,1097.0 967.0,1100.4 968.5,1104.0 970.0,1107.8 971.5,1111.7 973.0,1115.9 974.5,1120.3 976.0,1124.7 977.6,1129.4 979.1,1134.1 980.6,1138.9 982.1,1143.8 983.6,1148.7 985.1,1153.7 986.6,1158.7 988.1,1163.7 989.6,1168.6 991.1,1173.5 992.6,1178.3 994.1,1183.0 995.7,1187.7 997.2,1192.1 998.7,1196.5 1000.2,1200.7 1001.7,1204.6 1003.2,1208.4 1004.7,1212.0 1006.2,1215.4 1007.7,1218.5 1009.2,1221.3 1010.7,1223.9 1012.2,1226.2 1013.8,1228.2 1015.3,1229.9 1016.8,1231.4 1018.3,1232.5 1019.8,1233.3 1021.3,1233.7 1022.8,1233.9 1024.3,1233.7 1025.8,1233.3 1027.4,1232.5 1028.9,1231.5 1030.4,1230.2 1031.9,1228.5 1033.4,1226.6 1035.0,1224.5 1036.5,1222.0 1038.0,1219.3 1039.5,1216.4 1041.0,1213.2 1042.6,1209.8 1044.1,1206.3 1045.6,1202.5 1047.1,1198.6 1048.6,1194.5 1050.2,1190.2 1051.7,1185.8 1053.2,1181.4 1054.7,1176.8 1056.2,1172.2 1057.8,1167.5 1059.3,1162.9 1060.8,1158.1 1062.3,1153.5 1063.9,1148.8 1065.4,1144.2 1066.9,1139.6 1068.4,1135.2 1069.9,1130.8 1071.5,1126.5 1073.0,1122.4 1074.5,1118.5 1076.0,1114.7 1077.5,1111.2 1079.1,1107.8 1080.6,1104.6 1082.1,1101.7 1083.6,1099.0 1085.1,1096.5 1086.7,1094.4 1088.2,1092.5 1089.7,1090.8 1091.2,1089.5 1092.7,1088.5 1094.3,1087.7 1095.8,1087.3 1097.3,1087.1 1098.8,1087.2 1100.3,1087.6 1101.8,1088.3 1103.3,1089.2 1104.8,1090.3 1106.3,1091.7 1107.8,1093.4 1109.3,1095.3 1110.8,1097.4 1112.3,1099.7 1113.8,1102.3 1115.3,1105.0 1116.8,1108.0 1118.3,1111.1 1119.8,1114.4 1121.3,1117.9 1122.8,1121.4 1124.3,1125.2 1125.8,1129.0 1127.3,1133.0 1128.8,1137.0 1130.3,1141.1 1131.8,1145.3 1133.3,1149.5 1134.8,1153.7 1136.4,1157.9 1137.9,1162.1 1139.4,1166.3 1140.9,1170.5 1142.4,1174.6 1143.9,1178.6 1145.4,1182.6 1146.9,1186.4 1148.4,1190.1 1149.9,1193.7 1151.4,1197.2 1152.9,1200.5 1154.4,1203.6 1155.9,1206.6 1157.4,1209.3 1158.9,1211.9 1160.4,1214.2 1161.9,1216.3 1163.4,1218.2 1164.9,1219.9 1166.4,1221.3 1167.9,1222.4 1169.4,1223.3 1170.9,1224.0 1172.4,1224.4 1173.9,1224.5 1175.4,1224.4 1176.9,1224.0 1178.4,1223.3 1179.9,1222.4 1181.4,1221.3 1182.9,1219.9 1184.4,1218.2 1185.9,1216.3 1187.4,1214.2 1188.9,1211.9 1190.4,1209.3 1191.9,1206.6 1193.4,1203.7 1194.9,1200.6 1196.4,1197.3 1197.9,1193.9 1199.4,1190.3 1200.9,1186.7 1202.4,1182.9 1203.9,1179.0 1205.4,1175.1 1206.9,1171.1 1208.4,1167.1 1209.9,1163.0 1211.4,1158.9 1212.9,1154.8 1214.4,1150.8 1215.9,1146.8 1217.4,1142.9 1218.9,1139.0 1220.4,1135.2 1221.9,1131.6 1223.4,1128.0 1224.9,1124.6 1226.4,1121.3 1227.9,1118.2 1229.4,1115.3 1230.9,1112.6 1232.4,1110.0 1233.9,1107.7 1235.4,1105.6 1236.9,1103.7 1238.4,1102.0 1239.9,1100.6 1241.4,1099.5 1242.9,1098.6 1244.4,1097.9 1245.9,1097.5 1247.4,1097.4 1248.9,1097.5 1250.4,1097.9 1251.9,1098.4 1253.4,1099.3 1255.0,1100.3 1256.5,1101.5 1258.0,1103.0 1259.5,1104.7 1261.0,1106.6 1262.5,1108.6 1264.0,1110.9 1265.5,1113.4 1267.1,1116.0 1268.6,1118.8 1270.1,1121.7 1271.6,1124.7 1273.1,1127.9 1274.6,1131.2 1276.1,1134.6 1277.6,1138.1 1279.2,1141.7 1280.7,1145.3 1282.2,1148.9 1283.7,1152.6 1285.2,1156.3 1286.7,1160.0 1288.2,1163.7 1289.7,1167.3 1291.2,1170.9 1292.8,1174.5 1294.3,1178.0 1295.8,1181.4 1297.3,1184.7 1298.8,1187.9 1300.3,1190.9 1301.8,1193.8 1303.3,1196.6 1304.9,1199.2 1306.4,1201.7 1307.9,1204.0 1309.4,1206.0 1310.9,1207.9 1312.4,1209.6 1313.9,1211.1 1315.4,1212.3 1317.0,1213.3 1318.5,1214.2 1320.0,1214.7 1321.5,1215.1 1323.0,1215.2 1324.5,1215.1 1326.0,1214.8 1327.5,1214.2 1329.0,1213.4 1330.6,1212.4 1332.1,1211.2 1333.6,1209.8 1335.1,1208.2 1336.6,1206.4 1338.1,1204.4 1339.6,1202.2 1341.1,1199.8 1342.6,1197.3 1344.1,1194.6 1345.7,1191.8 1347.2,1188.9 1348.7,1185.9 1350.2,1182.7 1351.7,1179.5 1353.2,1176.1 1354.7,1172.7 1356.2,1169.3 1357.7,1165.8 1359.2,1162.4 1360.8,1158.8 1362.3,1155.4 1363.8,1151.9 1365.3,1148.5 1366.8,1145.1 1368.3,1141.7 1369.8,1138.5 1371.3,1135.3 1372.8,1132.3 1374.3,1129.4 1375.9,1126.6 1377.4,1123.9 1378.9,1121.4 1380.4,1119.0 1381.9,1116.8 1383.4,1114.8 1384.9,1113.0 1386.4,1111.4 1387.9,1110.0 1389.4,1108.8 1391.0,1107.8 1392.5,1107.0 1394.0,1106.4 1395.5,1106.1 1397.0,1106.0 1398.5,1106.1 1400.0,1106.4 1401.5,1106.9 1403.1,1107.6 1404.6,1108.4 1406.1,1109.5 1407.6,1110.8 1409.1,1112.2 1410.6,1113.8 1412.1,1115.6 1413.7,1117.5 1415.2,1119.6 1416.7,1121.8 1418.2,1124.2 1419.7,1126.7 1421.2,1129.3 1422.7,1132.0 1424.2,1134.8 1425.8,1137.7 1427.3,1140.7 1428.8,1143.8 1430.3,1146.9 1431.8,1150.0 1433.3,1153.2 1434.8,1156.4 1436.4,1159.6 1437.9,1162.8 1439.4,1166.0 1440.9,1169.1 1442.4,1172.2 1443.9,1175.3 1445.4,1178.3 1447.0,1181.2 1448.5,1184.0 1450.0,1186.7 1451.5,1189.3 1453.0,1191.8 1454.5,1194.2 1456.0,1196.4 1457.5,1198.5 1459.1,1200.4 1460.6,1202.2 1462.1,1203.8 1463.6,1205.2 1465.1,1206.5 1466.6,1207.6 1468.1,1208.4 1469.7,1209.1 1471.2,1209.6 1472.7,1209.9 1474.2,1210.0 1475.7,1209.9 1477.2,1209.6 1478.7,1209.1 1480.2,1208.4 1481.7,1207.5 1483.2,1206.5 1484.7,1205.2 1486.2,1203.8 1487.7,1202.2 1489.2,1200.4 1490.7,1198.5 1492.2,1196.4 1493.7,1194.2 1495.2,1191.8 1496.7,1189.3 1498.2,1186.7 1499.7,1184.0 1501.2,1181.2 1502.7,1178.3 1504.2,1175.4 1505.7,1172.4 1507.2,1169.4 1508.7,1166.3 1510.2,1163.2 1511.7,1160.1 1513.2,1157.0 1514.7,1153.9 1516.2,1150.9 1517.7,1147.9 1519.2,1145.0 1520.7,1142.1 1522.2,1139.3 1523.7,1136.6 1525.2,1134.0 1526.7,1131.5 1528.2,1129.1 1529.7,1126.9 1531.2,1124.8 1532.7,1122.9 1534.2,1121.1 1535.7,1119.5 1537.2,1118.1 1538.7,1116.8 1540.2,1115.8 1541.7,1114.9 1543.2,1114.2 1544.7,1113.7 1546.2,1113.4 1547.7,1113.3 1549.2,1113.4 1550.7,1113.7 1552.3,1114.1 1553.8,1114.7 1555.3,1115.5 1556.8,1116.5 1558.3,1117.6 1559.9,1118.9 1561.4,1120.4 1562.9,1122.0 1564.4,1123.7 1565.9,1125.6 1567.5,1127.6 1569.0,1129.8 1570.5,1132.0 1572.0,1134.3 1573.5,1136.8 1575.1,1139.3 1576.6,1141.9 1578.1,1144.6 1579.6,1147.3 1581.1,1150.0 1582.7,1152.8 1584.2,1155.6 1585.7,1158.4 1587.2,1161.2 1588.8,1164.0 1590.3,1166.7 1591.8,1169.4 1593.3,1172.1 1594.8,1174.7 1596.4,1177.2 1597.9,1179.7 1599.4,1182.0 1600.9,1184.2 1602.4,1186.4 1604.0,1188.4 1605.5,1190.3 1607.0,1192.0 1608.5,1193.6 1610.0,1195.1 1611.6,1196.4 1613.1,1197.5 1614.6,1198.5 1616.1,1199.3 1617.6,1199.9 1619.2,1200.3 1620.7,1200.6 1622.2,1200.7 1623.7,1200.6 1625.2,1200.4 1626.7,1200.0 1628.2,1199.4 1629.7,1198.7 1631.2,1197.8 1632.7,1196.7 1634.2,1195.5 1635.7,1194.2 1637.2,1192.7 1638.7,1191.1 1640.2,1189.4 1641.7,1187.6 1643.2,1185.6 1644.7,1183.5 1646.2,1181.4 1647.7,1179.1 1649.2,1176.8 1650.7,1174.4 1652.2,1172.0 1653.7,1169.5 1655.2,1167.0 1656.7,1164.5 1658.2,1161.9 1659.7,1159.3 1661.2,1156.7 1662.7,1154.2 1664.2,1151.7 1665.7,1149.2 1667.2,1146.8 1668.7,1144.4 1670.2,1142.1 1671.7,1139.8 1673.2,1137.7 1674.7,1135.6 1676.2,1133.6 1677.7,1131.8 1679.2,1130.1 1680.7,1128.5 1682.2,1127.0 1683.7,1125.7 1685.2,1124.5 1686.7,1123.4 1688.2,1122.5 1689.7,1121.8 1691.2,1121.2 1692.7,1120.8 1694.2,1120.6 1695.7,1120.5 1697.2,1120.6 1698.7,1120.8 1700.2,1121.1 1701.7,1121.6 1703.2,1122.3 1704.7,1123.0 1706.2,1123.9 1707.7,1125.0 1709.2,1126.1 1710.7,1127.4 1712.2,1128.8 1713.7,1130.3 1715.2,1131.9 1716.7,1133.7 1718.2,1135.5 1719.7,1137.4 1721.2,1139.3 1722.7,1141.4 1724.2,1143.5 1725.7,1145.6 1727.2,1147.8 1728.7,1150.1 1730.2,1152.4 1731.7,1154.7 1733.2,1157.0 1734.8,1159.3 1736.3,1161.6 1737.8,1163.9 1739.3,1166.2 1740.8,1168.5 1742.3,1170.7 1743.8,1172.8 1745.3,1174.9 1746.8,1177.0 1748.3,1178.9 1749.8,1180.8 1751.3,1182.6 1752.8,1184.4 1754.3,1186.0 1755.8,1187.5 1757.3,1188.9 1758.8,1190.2 1760.3,1191.3 1761.8,1192.4 1763.3,1193.3 1764.8,1194.0 1766.3,1194.7 1767.8,1195.2 1769.3,1195.5 1770.8,1195.7 1772.3,1195.8 1773.8,1195.7 1775.3,1195.5 1776.8,1195.2 1778.3,1194.7 1779.8,1194.1 1781.3,1193.4 1782.8,1192.5 1784.3,1191.5 1785.8,1190.4 1787.3,1189.2 1788.8,1187.8 1790.3,1186.4 1791.9,1184.8 1793.4,1183.2 1794.9,1181.5 1796.4,1179.6 1797.9,1177.8 1799.4,1175.8 1800.9,1173.8 1802.4,1171.7 1803.9,1169.6 1805.4,1167.4 1806.9,1165.2 1808.4,1163.0 1809.9,1160.8 1811.4,1158.6 1812.9,1156.4 1814.4,1154.2 1815.9,1152.0 1817.4,1149.8 1818.9,1147.7 1820.4,1145.6 1821.9,1143.6 1823.4,1141.6 1824.9,1139.8 1826.4,1137.9 1827.9,1136.2 1829.4,1134.6 1831.0,1133.0 1832.5,1131.6 1834.0,1130.2 1835.5,1129.0 1837.0,1127.9 1838.5,1126.9 1840.0,1126.0 1841.5,1125.3 1843.0,1124.7 1844.5,1124.2 1846.0,1123.9 1847.5,1123.7 1849.0,1123.6 1850.5,1123.7 1852.0,1123.9 1853.6,1124.3 1855.1,1124.8 1856.6,1125.5 1858.1,1126.3 1859.7,1127.3 1861.2,1128.4 1862.7,1129.6 1864.2,1131.0 1865.8,1132.4 1867.3,1134.0 1868.8,1135.7 1870.3,1137.5 1871.8,1139.4 1873.4,1141.4 1874.9,1143.5 1876.4,1145.6 1877.9,1147.8 1879.5,1150.0 1881.0,1152.3 1882.5,1154.6 1884.0,1156.9 1885.5,1159.2 1887.1,1161.6 1888.6,1163.9 1890.1,1166.2 1891.6,1168.5 1893.2,1170.7 1894.7,1172.9 1896.2,1175.0 1897.7,1177.1 1899.3,1179.1 1900.8,1181.0 1902.3,1182.8 1903.8,1184.5 1905.3,1186.1 1906.9,1187.5 1908.4,1188.9 1909.9,1190.1 1911.4,1191.2 1913.0,1192.2 1914.5,1193.0 1916.0,1193.7 1917.5,1194.2 1919.1,1194.6 1920.6,1194.8 1922.1,1194.9 1923.3,1194.9 1924.5,1194.7 1925.8,1194.5 1927.0,1194.2 1928.2,1193.8 1929.4,1193.3 1930.6,1192.7 1931.8,1192.0 1933.1,1191.3 1934.3,1190.5 1935.5,1189.6 1936.7,1188.6 1937.9,1187.5 1939.2,1186.4 1940.4,1185.2 1941.6,1184.0 1942.8,1182.6 1944.0,1181.3 1945.2,1179.8 1946.5,1178.4 1947.7,1176.8 1948.9,1175.3 1950.1,1173.7 1951.3,1172.0 1952.6,1170.4 1953.8,1168.7 1955.0,1167.0 1956.2,1165.3 1957.4,1163.6 1958.6,1161.8 1959.9,1160.1 1961.1,1158.4 1962.3,1156.7 1963.5,1155.0 1964.7,1153.3 1966.0,1151.6 1967.2,1150.0 1968.4,1148.4 1969.6,1146.8 1970.8,1145.3 1972.1,1143.8 1973.3,1142.4 1974.5,1141.0 1975.7,1139.7 1976.9,1138.4 1978.1,1137.3 1979.4,1136.1 1980.6,1135.1 1981.8,1134.1 1983.0,1133.2 1984.2,1132.4 1985.5,1131.6 1986.7,1131.0 1987.9,1130.4 1988.8,1130.0"/>
<polyline stroke="#ff8c1a" points="273.0,48.2 273.2,48.2 273.5,48.3 273.7,48.3 274.0,48.4 274.2,48.6 274.5,48.8 274.7,49.0 275.0,49.3 275.2,49.6 275.5,49.9 275.7,50.3 276.0,50.7 276.2,51.2 276.5,51.7 276.7,52.2 277.0,52.8 277.2,53.4 277.5,54.1 277.7,54.8 278.0,55.5 278.2,56.3 278.5,57.1 278.7,58.0 279.0,58.9 279.2,59.9 279.5,60.9 279.7,61.9 280.0,63.0 280.2,64.2 280.5,65.3 280.7,66.5 281.0,67.8 281.2,69.1 281.5,70.5 281.7,71.8 282.0,73.3 282.2,74.8 282.5,76.3 282.7,77.8 283.0,79.4 283.2,81.1 283.5,82.8 283.7,84.5 284.0,86.3 284.2,88.1 284.5,90.0 284.7,91.9 285.0,93.9 285.2,95.9 285.5,97.9 285.7,100.0 286.0,102.2 286.2,104.3 286.5,106.5 286.7,108.8 287.0,111.1 287.2,113.5 287.5,115.9 287.7,118.3 288.0,120.8 288.2,123.3 288.5,125.9 288.7,128.5 289.0,131.1 289.2,133.8 289.5,136.6 289.7,139.3 290.0,142.2 290.2,145.0 290.5,147.9 290.7,150.9 291.0,153.9 291.2,156.9 291.5,160.0 291.7,163.1 292.0,166.3 292.2,169.5 292.5,172.7 292.7,176.0 293.0,179.3 293.2,182.7 293.5,186.1 293.7,189.5 294.0,193.0 294.2,196.5 294.5,200.1 294.7,203.7 295.0,207.4 295.2,211.0 295.5,214.8 295.7,218.5 296.0,222.3 296.2,226.2 296.5,230.1 296.7,234.0 297.0,238.0 297.2,242.0 297.5,246.0 297.7,250.1 297.9,254.2 298.2,258.3 298.4,262.5 298.7,266.7 298.9,271.0 299.2,275.3 299.4,279.6 299.7,284.0 299.9,288.4 300.2,292.8 300.4,297.3 300.7,301.8 300.9,306.4 301.2,310.9 301.4,315.6 301.7,320.2 301.9,324.9 302.2,329.6 302.4,334.4 302.7,339.1 302.9,344.0 303.2,348.8 303.4,353.7 303.7,358.6 303.9,363.5 304.2,368.5 304.4,373.5 304.7,378.6 304.9,383.6 305.2,388.7 305.4,393.8 305.7,399.0 305.9,404.2 306.2,409.4 306.4,414.7 306.7,419.9 306.9,425.2 307.2,430.6 307.4,435.9 307.7,441.3 307.9,446.7 308.2,452.2 308.4,457.6 308.7,463.1 308.9,468.6 309.2,474.2 309.4,479.7 309.7,485.3 309.9,490.9 310.2,496.6 310.4,502.2 310.7,507.9 310.9,513.6 311.2,519.4 311.4,525.1 311.7,530.9 311.9,536.7 312.2,542.5 312.4,548.4 312.7,554.2 312.9,560.1 313.2,566.0 313.4,571.9 313.7,577.9 313.9,583.8 314.2,589.8 314.4,595.8 314.7,601.8 314.9,607.9 315.2,613.9 315.4,620.0 315.7,626.1 315.9,632.1 316.2,638.3 316.4,644.4 316.7,650.5 316.9,656.7 317.2,662.9 317.4,669.0 317.7,675.2 317.9,681.4 318.2,687.7 318.4,693.9 318.7,700.1 318.9,706.4 319.2,712.7 319.4,718.9 319.7,725.2 319.9,731.5 320.2,737.8 320.4,744.1 320.7,750.5 320.9,756.8 321.2,763.1 321.4,769.5 321.7,775.8 321.9,782.2 322.2,788.6 322.4,794.9 322.7,801.3 322.9,807.7 323.1,814.1 323.4,820.5 323.6,826.9 323.9,833.2 324.1,839.6 324.4,846.0 324.6,852.4 324.9,858.9 325.1,865.3 325.4,871.7 325.6,878.1 325.9,884.5 326.1,890.9 326.4,897.3 326.6,903.7 326.9,910.1 327.1,916.5 327.4,922.9 327.6,929.3 327.9,935.7 328.1,942.0 328.4,948.4 328.6,954.8 328.9,961.2 329.1,967.5 329.4,973.9 329.6,980.2 329.9,986.6 330.1,992.9 330.4,999.2 330.6,1005.6 330.9,1011.9 331.1,1018.2 331.4,1024.5 331.6,1030.8 331.9,1037.0 332.1,1043.3 332.4,1049.5 332.6,1055.8 332.9,1062.0 333.1,1068.2 333.4,1074.4 333.6,1080.6 333.9,1086.8 334.1,1093.0 334.4,1099.1 334.6,1105.2 334.9,1111.4 335.1,1117.5 335.4,1123.6 335.6,1129.6 335.9,1135.7 336.1,1141.7 336.4,1147.7 336.6,1153.7 336.9,1159.7 337.1,1165.7 337.4,1171.6 337.6,1177.5 337.9,1183.4 338.1,1189.3 338.4,1195.2 338.6,1201.0 338.9,1206.8 339.1,1212.6 339.4,1218.4 339.6,1224.2 339.9,1229.9 340.1,1235.6 340.4,1241.3 340.6,1246.9 340.9,1252.6 341.1,1258.2 341.4,1263.7 341.6,1269.3 341.9,1274.8 342.1,1280.3 342.4,1285.8 342.6,1291.2 342.9,1296.7 343.1,1302.0 343.4,1307.4 343.6,1312.7 343.9,1318.0 344.1,1323.3 344.4,1328.6 344.6,1333.8 344.9,1338.9 345.1,1344.1 345.4,1349.2 345.6,1354.3 345.9,1359.4 346.1,1364.4 346.4,1369.4 346.6,1374.3 346.9,1379.2 347.1,1384.1 347.4,1389.0 347.6,1393.8 347.9,1398.6 348.1,1403.3 348.3,1408.0 348.6,1412.7 348.8,1417.3 349.1,1421.9 349.3,1426.5 349.6,1431.0 349.8,1435.5 350.1,1440.0 350.3,1444.4 350.6,1448.8 350.8,1453.1 351.1,1457.4 351.3,1461.7 351.6,1465.9 351.8,1470.1 352.1,1474.2 352.3,1478.3 352.6,1482.3 352.8,1486.4 353.1,1490.3 353.3,1494.3 353.6,1498.1 353.8,1502.0 354.1,1505.8 354.3,1509.5 354.6,1513.3 354.8,1516.9 355.1,1520.6 355.3,1524.1 355.6,1527.7 355.8,1531.2 356.1,1534.6 356.3,1538.0 356.6,1541.4 356.8,1544.7 357.1,1548.0 357.3,1551.2 357.6,1554.4 357.8,1557.5 358.1,1560.6 358.3,1563.6 358.6,1566.6 358.8,1569.5 359.1,1572.4 359.3,1575.3 359.6,1578.1 359.8,1580.8 360.1,1583.5 360.3,1586.2 360.6,1588.8 360.8,1591.3 361.1,1593.8 361.3,1596.3 361.6,1598.7 361.8,1601.0 362.1,1603.4 362.3,1605.6 362.6,1607.8 362.8,1610.0 363.1,1612.1 363.3,1614.1 363.6,1616.1 363.8,1618.1 364.1,1620.0 364.3,1621.8 364.6,1623.6 364.8,1625.3 365.1,1627.0 365.3,1628.7 365.6,1630.2 365.8,1631.8 366.1,1633.3 366.3,1634.7 366.6,1636.1 366.8,1637.4 367.1,1638.7 367.3,1639.9 367.6,1641.0 367.8,1642.1 368.1,1643.2 368.3,1644.2 368.6,1645.1 368.8,1646.0 369.1,1646.9 369.3,1647.7 369.6,1648.4 369.8,1649.1 370.1,1649.7 370.3,1650.3 370.6,1650.8 370.8,1651.3 371.1,1651.7 371.3,1652.0 371.6,1652.3 371.8,1652.6 372.1,1652.8 372.3,1652.9 372.6,1653.0 372.8,1653.0 374.3,1652.4 375.8,1650.4 377.3,1647.2 378.8,1642.7 380.4,1637.0 381.9,1630.0 383.4,1621.7 384.9,1612.3 386.4,1601.7 387.9,1590.0 389.4,1577.2 390.9,1563.3 392.4,1548.4 393.9,1532.5 395.5,1515.7 397.0,1498.1 398.5,1479.6 400.0,1460.3 401.5,1440.3 403.0,1419.7 404.5,1398.5 406.0,1376.8 407.5,1354.6 409.1,1332.1 410.6,1309.2 412.1,1286.1 413.6,1262.8 415.1,1239.4 416.6,1215.9 418.1,1192.5 419.6,1169.2 421.1,1146.1 422.6,1123.2 424.2,1100.7 425.7,1078.5 427.2,1056.8 428.7,1035.6 430.2,1015.0 431.7,995.0 433.2,975.7 434.7,957.2 436.2,939.6 437.8,922.8 439.3,906.9 440.8,892.0 442.3,878.1 443.8,865.3 445.3,853.6 446.8,843.0 448.3,833.6 449.8,825.3 451.3,818.3 452.9,812.6 454.4,808.1 455.9,804.9 457.4,802.9 458.9,802.3 460.4,802.7 461.9,804.0 463.4,806.2 464.9,809.2 466.4,813.0 467.9,817.6 469.4,823.1 470.9,829.4 472.4,836.4 473.9,844.2 475.4,852.6 476.9,861.8 478.4,871.7 480.0,882.1 481.5,893.2 483.0,904.8 484.5,916.9 486.0,929.5 487.5,942.6 489.0,956.0 490.5,969.7 492.0,983.8 493.5,998.1 495.0,1012.6 496.5,1027.2 498.0,1042.0 499.5,1056.8 501.0,1071.5 502.5,1086.3 504.0,1100.9 505.5,1115.4 507.0,1129.7 508.5,1143.8 510.0,1157.5 511.5,1170.9 513.0,1184.0 514.5,1196.6 516.0,1208.7 517.5,1220.3 519.0,1231.4 520.6,1241.8 522.1,1251.7 523.6,1260.9 525.1,1269.3 526.6,1277.1 528.1,1284.1 529.6,1290.4 531.1,1295.9 532.6,1300.5 534.1,1304.3 535.6,1307.3 537.1,1309.5 538.6,1310.8 540.1,1311.2 541.6,1310.9 543.2,1310.0 544.7,1308.4 546.2,1306.2 547.7,1303.5 549.3,1300.1 550.8,1296.2 552.3,1291.7 553.9,1286.7 555.4,1281.2 556.9,1275.1 558.5,1268.6 560.0,1261.7 561.5,1254.3 563.0,1246.6 564.6,1238.5 566.1,1230.1 567.6,1221.5 569.2,1212.6 570.7,1203.5 572.2,1194.2 573.7,1184.8 575.3,1175.4 576.8,1165.9 578.3,1156.3 579.9,1146.9 581.4,1137.5 582.9,1128.2 584.4,1119.1 586.0,1110.2 587.5,1101.6 589.0,1093.2 590.6,1085.1 592.1,1077.4 593.6,1070.0 595.1,1063.1 596.7,1056.6 598.2,1050.5 599.7,1045.0 601.3,1040.0 602.8,1035.5 604.3,1031.6 605.9,1028.2 607.4,1025.5 608.9,1023.3 610.4,1021.7 612.0,1020.8 613.5,1020.5 615.0,1020.7 616.5,1021.5 618.0,1022.7 619.5,1024.4 621.0,1026.5 622.5,1029.1 624.0,1032.2 625.5,1035.6 627.0,1039.5 628.5,1043.9 630.0,1048.5 631.5,1053.6 633.0,1059.0 634.5,1064.7 636.0,1070.7 637.5,1077.0 639.0,1083.5 640.5,1090.3 642.0,1097.2 643.5,1104.3 645.0,1111.5 646.5,1118.8 648.0,1126.1 649.5,1133.5 651.0,1140.9 652.5,1148.2 654.0,1155.5 655.5,1162.7 657.0,1169.8 658.5,1176.7 660.0,1183.5 661.5,1190.0 663.0,1196.3 664.5,1202.3 666.0,1208.0 667.5,1213.4 669.0,1218.5 670.5,1223.1 672.0,1227.5 673.5,1231.4 675.0,1234.8 676.5,1237.9 678.0,1240.5 679.5,1242.6 681.0,1244.3 682.5,1245.5 684.0,1246.3 685.5,1246.5 687.0,1246.3 688.5,1245.6 690.1,1244.4 691.6,1242.8 693.1,1240.8 694.6,1238.3 696.1,1235.5 697.6,1232.2 699.2,1228.5 700.7,1224.4 702.2,1220.0 703.7,1215.2 705.2,1210.2 706.7,1204.8 708.3,1199.2 709.8,1193.3 711.3,1187.2 712.8,1181.0 714.3,1174.6 715.8,1168.0 717.4,1161.4 718.9,1154.7 720.4,1148.0 721.9,1141.3 723.4,1134.6 725.0,1128.0 726.5,1121.4 728.0,1115.0 729.5,1108.8 731.0,1102.7 732.5,1096.8 734.1,1091.2 735.6,1085.8 737.1,1080.8 738.6,1076.0 740.1,1071.6 741.6,1067.5 743.2,1063.8 744.7,1060.5 746.2,1057.7 747.7,1055.2 749.2,1053.2 750.7,1051.6 752.3,1050.4 753.8,1049.7 755.3,1049.5 756.8,1049.7 758.4,1050.3 759.9,1051.4 761.4,1052.9 763.0,1054.7 764.5,1057.0 766.0,1059.7 767.5,1062.7 769.1,1066.1 770.6,1069.8 772.1,1073.9 773.7,1078.3 775.2,1082.9 776.7,1087.9 778.3,1093.0 779.8,1098.4 781.3,1104.0 782.8,1109.8 784.4,1115.7 785.9,1121.7 787.4,1127.8 789.0,1133.9 790.5,1140.1 792.0,1146.3 793.6,1152.4 795.1,1158.5 796.6,1164.5 798.2,1170.4 799.7,1176.2 801.2,1181.8 802.7,1187.2 804.3,1192.3 805.8,1197.3 807.3,1201.9 808.9,1206.3 810.4,1210.4 811.9,1214.1 813.5,1217.5 815.0,1220.5 816.5,1223.2 818.0,1225.5 819.6,1227.3 821.1,1228.8 822.6,1229.9 824.2,1230.5 825.7,1230.7 827.2,1230.5 828.7,1229.9 830.3,1228.9 831.8,1227.6 833.3,1225.8 834.8,1223.7 836.3,1221.2 837.8,1218.4 839.4,1215.3 840.9,1211.8 842.4,1208.0 843.9,1204.0 845.4,1199.7 846.9,1195.1 848.5,1190.3 850.0,1185.3 851.5,1180.2 853.0,1174.9 854.5,1169.5 856.1,1164.0 857.6,1158.4 859.1,1152.8 860.6,1147.1 862.1,1141.5 863.6,1135.9 865.2,1130.4 866.7,1125.0 868.2,1119.7 869.7,1114.6 871.2,1109.6 872.8,1104.8 874.3,1100.2 875.8,1095.9 877.3,1091.9 878.8,1088.1 880.3,1084.6 881.9,1081.5 883.4,1078.7 884.9,1076.2 886.4,1074.1 887.9,1072.3 889.4,1071.0 891.0,1070.0 892.5,1069.4 894.0,1069.2 895.5,1069.4 897.1,1069.9 898.6,1070.8 900.1,1072.0 901.7,1073.5 903.2,1075.4 904.7,1077.6 906.2,1080.1 907.8,1082.9 909.3,1086.0 910.8,1089.4 912.4,1093.0 913.9,1096.9 915.4,1101.0 917.0,1105.3 918.5,1109.7 920.0,1114.4 921.5,1119.2 923.1,1124.0 924.6,1129.0 926.1,1134.1 927.7,1139.2 929.2,1144.3 930.7,1149.4 932.3,1154.5 933.8,1159.6 935.3,1164.6 936.9,1169.4 938.4,1174.2 939.9,1178.9 941.4,1183.3 943.0,1187.6 944.5,1191.7 946.0,1195.6 947.6,1199.2 949.1,1202.6 950.6,1205.7 952.2,1208.5 953.7,1211.0 955.2,1213.2 956.7,1215.1 958.3,1216.6 959.8,1217.8 961.3,1218.7 962.9,1219.2 964.4,1219.4 965.9,1219.2 967.4,1218.7 969.0,1217.9 970.5,1216.8 972.0,1215.3 973.5,1213.5 975.0,1211.5 976.5,1209.1 978.1,1206.4 979.6,1203.5 981.1,1200.3 982.6,1196.9 984.1,1193.3 985.6,1189.4 987.2,1185.4 988.7,1181.1 990.2,1176.8 991.7,1172.3 993.2,1167.7 994.7,1163.0 996.3,1158.2 997.8,1153.4 999.3,1148.6 1000.8,1143.7 1002.3,1138.9 1003.9,1134.1 1005.4,1129.4 1006.9,1124.8 1008.4,1120.3 1009.9,1116.0 1011.4,1111.7 1013.0,1107.7 1014.5,1103.8 1016.0,1100.2 1017.5,1096.8 1019.0,1093.6 1020.5,1090.7 1022.1,1088.0 1023.6,1085.6 1025.1,1083.6 1026.6,1081.8 1028.1,1080.3 1029.6,1079.2 1031.2,1078.4 1032.7,1077.9 1034.2,1077.7 1035.7,1077.9 1037.3,1078.3 1038.8,1079.1 1040.3,1080.2 1041.9,1081.5 1043.4,1083.2 1044.9,1085.1 1046.4,1087.3 1048.0,1089.8 1049.5,1092.5 1051.0,1095.5 1052.6,1098.7 1054.1,1102.1 1055.6,1105.7 1057.2,1109.5 1058.7,1113.4 1060.2,1117.5 1061.7,1121.7 1063.3,1126.0 1064.8,1130.4 1066.3,1134.8 1067.9,1139.3 1069.4,1143.8 1070.9,1148.4 1072.5,1152.9 1074.0,1157.3 1075.5,1161.7 1077.1,1166.0 1078.6,1170.2 1080.1,1174.3 1081.6,1178.2 1083.2,1182.0 1084.7,1185.6 1086.2,1189.0 1087.8,1192.2 1089.3,1195.2 1090.8,1197.9 1092.4,1200.4 1093.9,1202.6 1095.4,1204.5 1096.9,1206.2 1098.5,1207.5 1100.0,1208.6 1101.5,1209.4 1103.1,1209.8 1104.6,1210.0 1106.1,1209.8 1107.7,1209.4 1109.2,1208.6 1110.7,1207.5 1112.2,1206.1 1113.8,1204.4 1115.3,1202.5 1116.8,1200.2 1118.3,1197.7 1119.9,1195.0 1121.4,1192.0 1122.9,1188.8 1124.5,1185.4 1126.0,1181.8 1127.5,1178.0 1129.0,1174.1 1130.6,1170.0 1132.1,1165.9 1133.6,1161.6 1135.1,1157.3 1136.7,1152.9 1138.2,1148.5 1139.7,1144.2 1141.3,1139.8 1142.8,1135.5 1144.3,1131.2 1145.8,1127.1 1147.4,1123.0 1148.9,1119.1 1150.4,1115.3 1151.9,1111.7 1153.5,1108.3 1155.0,1105.1 1156.5,1102.1 1158.1,1099.4 1159.6,1096.9 1161.1,1094.6 1162.6,1092.7 1164.2,1091.0 1165.7,1089.6 1167.2,1088.5 1168.7,1087.7 1170.3,1087.3 1171.8,1087.1 1173.3,1087.2 1174.9,1087.6 1176.4,1088.3 1177.9,1089.2 1179.5,1090.4 1181.0,1091.8 1182.5,1093.5 1184.0,1095.4 1185.6,1097.5 1187.1,1099.8 1188.6,1102.4 1190.2,1105.1 1191.7,1108.1 1193.2,1111.1 1194.8,1114.4 1196.3,1117.8 1197.8,1121.3 1199.3,1124.9 1200.9,1128.6 1202.4,1132.3 1203.9,1136.2 1205.5,1140.0 1207.0,1143.9 1208.5,1147.8 1210.1,1151.6 1211.6,1155.5 1213.1,1159.2 1214.7,1162.9 1216.2,1166.5 1217.7,1170.0 1219.2,1173.4 1220.8,1176.7 1222.3,1179.7 1223.8,1182.7 1225.4,1185.4 1226.9,1188.0 1228.4,1190.3 1230.0,1192.4 1231.5,1194.3 1233.0,1196.0 1234.5,1197.4 1236.1,1198.6 1237.6,1199.5 1239.1,1200.2 1240.7,1200.6 1242.2,1200.7 1243.7,1200.6 1245.3,1200.2 1246.8,1199.6 1248.3,1198.8 1249.9,1197.7 1251.4,1196.4 1252.9,1194.9 1254.4,1193.2 1256.0,1191.2 1257.5,1189.1 1259.0,1186.8 1260.6,1184.3 1262.1,1181.6 1263.6,1178.8 1265.2,1175.9 1266.7,1172.8 1268.2,1169.6 1269.7,1166.3 1271.3,1163.0 1272.8,1159.6 1274.3,1156.1 1275.9,1152.6 1277.4,1149.1 1278.9,1145.5 1280.5,1142.0 1282.0,1138.5 1283.5,1135.1 1285.1,1131.8 1286.6,1128.5 1288.1,1125.3 1289.6,1122.2 1291.2,1119.3 1292.7,1116.5 1294.2,1113.8 1295.8,1111.3 1297.3,1109.0 1298.8,1106.9 1300.4,1104.9 1301.9,1103.2 1303.4,1101.7 1304.9,1100.4 1306.5,1099.3 1308.0,1098.5 1309.5,1097.9 1311.1,1097.5 1312.6,1097.4 1314.1,1097.5 1315.6,1097.9 1317.2,1098.5 1318.7,1099.3 1320.2,1100.4 1321.7,1101.7 1323.2,1103.2 1324.8,1104.9 1326.3,1106.9 1327.8,1109.0 1329.3,1111.3 1330.8,1113.8 1332.4,1116.5 1333.9,1119.3 1335.4,1122.2 1336.9,1125.3 1338.4,1128.4 1340.0,1131.7 1341.5,1135.0 1343.0,1138.4 1344.5,1141.8 1346.0,1145.3 1347.6,1148.7 1349.1,1152.2 1350.6,1155.6 1352.1,1159.0 1353.6,1162.3 1355.2,1165.6 1356.7,1168.7 1358.2,1171.8 1359.7,1174.7 1361.2,1177.5 1362.8,1180.2 1364.3,1182.7 1365.8,1185.0 1367.3,1187.1 1368.8,1189.1 1370.4,1190.8 1371.9,1192.3 1373.4,1193.6 1374.9,1194.7 1376.4,1195.5 1378.0,1196.1 1379.5,1196.5 1381.0,1196.6 1382.5,1196.5 1384.0,1196.1 1385.6,1195.6 1387.1,1194.8 1388.6,1193.7 1390.1,1192.5 1391.6,1191.1 1393.2,1189.4 1394.7,1187.6 1396.2,1185.5 1397.7,1183.3 1399.2,1180.9 1400.8,1178.4 1402.3,1175.7 1403.8,1172.9 1405.3,1170.0 1406.8,1167.0 1408.4,1163.9 1409.9,1160.7 1411.4,1157.5 1412.9,1154.2 1414.4,1150.9 1416.0,1147.6 1417.5,1144.3 1419.0,1141.0 1420.5,1137.8 1422.0,1134.6 1423.6,1131.5 1425.1,1128.5 1426.6,1125.6 1428.1,1122.8 1429.6,1120.1 1431.2,1117.6 1432.7,1115.2 1434.2,1113.0 1435.7,1110.9 1437.2,1109.1 1438.8,1107.4 1440.3,1106.0 1441.8,1104.8 1443.3,1103.7 1444.8,1102.9 1446.4,1102.4 1447.9,1102.0 1449.4,1101.9 1450.9,1102.0 1452.5,1102.3 1454.0,1102.9 1455.5,1103.6 1457.0,1104.6 1458.6,1105.7 1460.1,1107.1 1461.6,1108.7 1463.1,1110.4 1464.7,1112.3 1466.2,1114.4 1467.7,1116.6 1469.3,1119.0 1470.8,1121.4 1472.3,1124.1 1473.8,1126.8 1475.4,1129.6 1476.9,1132.5 1478.4,1135.4 1479.9,1138.4 1481.5,1141.4 1483.0,1144.5 1484.5,1147.5 1486.1,1150.5 1487.6,1153.5 1489.1,1156.4 1490.6,1159.3 1492.2,1162.1 1493.7,1164.8 1495.2,1167.5 1496.7,1169.9 1498.3,1172.3 1499.8,1174.5 1501.3,1176.6 1502.9,1178.5 1504.4,1180.2 1505.9,1181.8 1507.4,1183.2 1509.0,1184.3 1510.5,1185.3 1512.0,1186.0 1513.5,1186.6 1515.1,1186.9 1516.6,1187.0 1518.1,1186.9 1519.7,1186.6 1521.2,1186.2 1522.7,1185.5 1524.3,1184.7 1525.8,1183.7 1527.3,1182.5 1528.8,1181.2 1530.4,1179.7 1531.9,1178.0 1533.4,1176.2 1535.0,1174.3 1536.5,1172.2 1538.0,1170.1 1539.6,1167.8 1541.1,1165.4 1542.6,1162.9 1544.1,1160.4 1545.7,1157.8 1547.2,1155.1 1548.7,1152.4 1550.3,1149.7 1551.8,1147.0 1553.3,1144.3 1554.9,1141.6 1556.4,1138.9 1557.9,1136.2 1559.5,1133.6 1561.0,1131.1 1562.5,1128.6 1564.0,1126.2 1565.6,1123.9 1567.1,1121.8 1568.6,1119.7 1570.2,1117.8 1571.7,1116.0 1573.2,1114.3 1574.8,1112.8 1576.3,1111.5 1577.8,1110.3 1579.3,1109.3 1580.9,1108.5 1582.4,1107.8 1583.9,1107.4 1585.5,1107.1 1587.0,1107.0 1588.5,1107.1 1590.1,1107.3 1591.6,1107.8 1593.1,1108.4 1594.7,1109.2 1596.2,1110.1 1597.7,1111.2 1599.2,1112.5 1600.8,1113.9 1602.3,1115.4 1603.8,1117.1 1605.4,1118.9 1606.9,1120.8 1608.4,1122.9 1610.0,1125.0 1611.5,1127.2 1613.0,1129.6 1614.5,1131.9 1616.1,1134.4 1617.6,1136.9 1619.1,1139.4 1620.7,1141.9 1622.2,1144.5 1623.7,1147.1 1625.3,1149.6 1626.8,1152.1 1628.3,1154.6 1629.9,1157.1 1631.4,1159.4 1632.9,1161.8 1634.4,1164.0 1636.0,1166.1 1637.5,1168.2 1639.0,1170.1 1640.6,1171.9 1642.1,1173.6 1643.6,1175.1 1645.2,1176.5 1646.7,1177.8 1648.2,1178.9 1649.7,1179.8 1651.3,1180.6 1652.8,1181.2 1654.3,1181.7 1655.9,1181.9 1657.4,1182.0 1658.9,1181.9 1660.5,1181.6 1662.0,1181.2 1663.5,1180.6 1665.0,1179.8 1666.6,1178.8 1668.1,1177.7 1669.6,1176.4 1671.2,1175.0 1672.7,1173.5 1674.2,1171.7 1675.8,1169.9 1677.3,1168.0 1678.8,1165.9 1680.3,1163.8 1681.9,1161.5 1683.4,1159.2 1684.9,1156.9 1686.5,1154.4 1688.0,1152.0 1689.5,1149.5 1691.1,1147.0 1692.6,1144.5 1694.1,1142.0 1695.6,1139.6 1697.2,1137.1 1698.7,1134.8 1700.2,1132.5 1701.8,1130.2 1703.3,1128.1 1704.8,1126.0 1706.3,1124.1 1707.9,1122.3 1709.4,1120.5 1710.9,1119.0 1712.5,1117.6 1714.0,1116.3 1715.5,1115.2 1717.1,1114.2 1718.6,1113.4 1720.1,1112.8 1721.6,1112.4 1723.2,1112.1 1724.7,1112.0 1726.2,1112.1 1727.7,1112.3 1729.2,1112.8 1730.7,1113.4 1732.2,1114.1 1733.7,1115.0 1735.2,1116.1 1736.7,1117.3 1738.2,1118.7 1739.7,1120.2 1741.2,1121.8 1742.8,1123.6 1744.3,1125.5 1745.8,1127.5 1747.3,1129.5 1748.8,1131.7 1750.3,1133.9 1751.8,1136.2 1753.3,1138.6 1754.8,1141.0 1756.3,1143.4 1757.8,1145.8 1759.3,1148.3 1760.8,1150.7 1762.3,1153.1 1763.8,1155.5 1765.3,1157.9 1766.8,1160.2 1768.3,1162.4 1769.8,1164.6 1771.3,1166.6 1772.8,1168.6 1774.3,1170.5 1775.9,1172.3 1777.4,1173.9 1778.9,1175.4 1780.4,1176.8 1781.9,1178.0 1783.4,1179.1 1784.9,1180.0 1786.4,1180.7 1787.9,1181.3 1789.4,1181.8 1790.9,1182.0 1792.4,1182.1 1793.9,1182.0 1795.4,1181.8 1796.9,1181.4 1798.5,1180.9 1800.0,1180.3 1801.5,1179.5 1803.0,1178.5 1804.5,1177.4 1806.0,1176.2 1807.5,1174.9 1809.1,1173.5 1810.6,1171.9 1812.1,1170.3 1813.6,1168.5 1815.1,1166.7 1816.6,1164.8 1818.2,1162.8 1819.7,1160.7 1821.2,1158.6 1822.7,1156.5 1824.2,1154.3 1825.7,1152.1 1827.2,1149.9 1828.8,1147.6 1830.3,1145.4 1831.8,1143.2 1833.3,1141.0 1834.8,1138.9 1836.3,1136.8 1837.8,1134.7 1839.4,1132.7 1840.9,1130.8 1842.4,1129.0 1843.9,1127.2 1845.4,1125.6 1846.9,1124.0 1848.5,1122.6 1850.0,1121.3 1851.5,1120.1 1853.0,1119.0 1854.5,1118.0 1856.0,1117.2 1857.5,1116.6 1859.1,1116.1 1860.6,1115.7 1862.1,1115.5 1863.6,1115.4 1865.1,1115.5 1866.7,1115.7 1868.2,1116.1 1869.7,1116.7 1871.3,1117.5 1872.8,1118.3 1874.3,1119.4 1875.8,1120.6 1877.4,1121.9 1878.9,1123.3 1880.4,1124.9 1882.0,1126.6 1883.5,1128.4 1885.0,1130.3 1886.6,1132.3 1888.1,1134.3 1889.6,1136.5 1891.1,1138.6 1892.7,1140.9 1894.2,1143.1 1895.7,1145.4 1897.3,1147.6 1898.8,1149.9 1900.3,1152.1 1901.9,1154.4 1903.4,1156.5 1904.9,1158.7 1906.4,1160.7 1908.0,1162.7 1909.5,1164.6 1911.0,1166.4 1912.6,1168.1 1914.1,1169.7 1915.6,1171.1 1917.2,1172.4 1918.7,1173.6 1920.2,1174.7 1921.7,1175.5 1923.3,1176.3 1924.8,1176.9 1926.3,1177.3 1927.9,1177.5 1929.4,1177.6 1930.5,1177.6 1931.6,1177.4 1932.7,1177.2 1933.8,1177.0 1934.9,1176.6 1936.0,1176.2 1937.1,1175.7 1938.2,1175.1 1939.3,1174.5 1940.4,1173.8 1941.5,1173.0 1942.6,1172.1 1943.7,1171.2 1944.8,1170.3 1945.9,1169.2 1946.9,1168.1 1948.0,1167.0 1949.1,1165.8 1950.2,1164.6 1951.3,1163.3 1952.4,1162.0 1953.5,1160.7 1954.6,1159.3 1955.7,1157.9 1956.8,1156.4 1957.9,1155.0 1959.0,1153.5 1960.1,1152.0 1961.2,1150.5 1962.3,1149.0 1963.4,1147.5 1964.5,1146.1 1965.6,1144.6 1966.7,1143.1 1967.8,1141.6 1968.9,1140.2 1970.0,1138.8 1971.1,1137.4 1972.2,1136.1 1973.3,1134.8 1974.4,1133.5 1975.5,1132.3 1976.6,1131.1 1977.7,1129.9 1978.8,1128.8 1979.8,1127.8 1980.9,1126.8 1982.0,1125.9 1983.1,1125.1 1984.2,1124.3 1985.3,1123.6 1986.4,1122.9 1987.5,1122.4 1988.6,1121.9 1988.8,1121.8"/>
</g>
<g stroke="#1a1a1a" stroke-width="4.8" fill="none" stroke-linecap="butt">
<rect x="273.0" y="48.2" width="1715.8" height="1716.6" stroke-linejoin="miter"/>
<line x1="273.0" y1="1707.6" x2="289.5" y2="1707.6"/>
<line x1="1988.8" y1="1707.6" x2="1972.3" y2="1707.6"/>
<line x1="273.0" y1="1650.4" x2="289.5" y2="1650.4"/>
<line x1="1988.8" y1="1650.4" x2="1972.3" y2="1650.4"/>
<line x1="273.0" y1="1593.1" x2="289.5" y2="1593.1"/>
<line x1="1988.8" y1="1593.1" x2="1972.3" y2="1593.1"/>
<line x1="273.0" y1="1535.9" x2="289.5" y2="1535.9"/>
<line x1="1988.8" y1="1535.9" x2="1972.3" y2="1535.9"/>
<line x1="273.0" y1="1478.7" x2="304.5" y2="1478.7"/>
<line x1="1988.8" y1="1478.7" x2="1957.3" y2="1478.7"/>
<line x1="273.0" y1="1421.5" x2="289.5" y2="1421.5"/>
<line x1="1988.8" y1="1421.5" x2="1972.3" y2="1421.5"/>
<line x1="273.0" y1="1364.3" x2="289.5" y2="1364.3"/>
<line x1="1988.8" y1="1364.3" x2="1972.3" y2="1364.3"/>
<line x1="273.0" y1="1307.0" x2="289.5" y2="1307.0"/>
<line x1="1988.8" y1="1307.0" x2="1972.3" y2="1307.0"/>
<line x1="273.0" y1="1249.8" x2="289.5" y2="1249.8"/>
<line x1="1988.8" y1="1249.8" x2="1972.3" y2="1249.8"/>
<line x1="273.0" y1="1192.6" x2="304.5" y2="1192.6"/>
<line x1="1988.8" y1="1192.6" x2="1957.3" y2="1192.6"/>
<line x1="273.0" y1="1135.4" x2="289.5" y2="1135.4"/>
<line x1="1988.8" y1="1135.4" x2="1972.3" y2="1135.4"/>
<line x1="273.0" y1="1078.2" x2="289.5" y2="1078.2"/>
<line x1="1988.8" y1="1078.2" x2="1972.3" y2="1078.2"/>
<line x1="273.0" y1="1020.9" x2="289.5" y2="1020.9"/>
<line x1="1988.8" y1="1020.9" x2="1972.3" y2="1020.9"/>
<line x1="273.0" y1="963.7" x2="289.5" y2="963.7"/>
<line x1="1988.8" y1="963.7" x2="1972.3" y2="963.7"/>
<line x1="273.0" y1="906.5" x2="304.5" y2="906.5"/>
<line x1="1988.8" y1="906.5" x2="1957.3" y2="906.5"/>
<line x1="273.0" y1="849.3" x2="289.5" y2="849.3"/>
<line x1="1988.8" y1="849.3" x2="1972.3" y2="849.3"/>
<line x1="273.0" y1="792.1" x2="289.5" y2="792.1"/>
<line x1="1988.8" y1="792.1" x2="1972.3" y2="792.1"/>
<line x1="273.0" y1="734.8" x2="289.5" y2="734.8"/>
<line x1="1988.8" y1="734.8" x2="1972.3" y2="734.8"/>
<line x1="273.0" y1="677.6" x2="289.5" y2="677.6"/>
<line x1="1988.8" y1="677.6" x2="1972.3" y2="677.6"/>
<line x1="273.0" y1="620.4" x2="304.5" y2="620.4"/>
<line x1="1988.8" y1="620.4" x2="1957.3" y2="620.4"/>
<line x1="273.0" y1="563.2" x2="289.5" y2="563.2"/>
<line x1="1988.8" y1="563.2" x2="1972.3" y2="563.2"/>
<line x1="273.0" y1="506.0" x2="289.5" y2="506.0"/>
<line x1="1988.8" y1="506.0" x2="1972.3" y2="506.0"/>
<line x1="273.0" y1="448.7" x2="289.5" y2="448.7"/>
<line x1="1988.8" y1="448.7" x2="1972.3" y2="448.7"/>
<line x1="273.0" y1="391.5" x2="289.5" y2="391.5"/>
<line x1="1988.8" y1="391.5" x2="1972.3" y2="391.5"/>
<line x1="273.0" y1="334.3" x2="304.5" y2="334.3"/>
<line x1="1988.8" y1="334.3" x2="1957.3" y2="334.3"/>
<line x1="273.0" y1="277.1" x2="289.5" y2="277.1"/>
<line x1="1988.8" y1="277.1" x2="1972.3" y2="277.1"/>
<line x1="273.0" y1="219.9" x2="289.5" y2="219.9"/>
<line x1="1988.8" y1="219.9" x2="1972.3" y2="219.9"/>
<line x1="273.0" y1="162.6" x2="289.5" y2="162.6"/>
<line x1="1988.8" y1="162.6" x2="1972.3" y2="162.6"/>
<line x1="273.0" y1="105.4" x2="289.5" y2="105.4"/>
<line x1="1988.8" y1="105.4" x2="1972.3" y2="105.4"/>
<line x1="616.2" y1="1764.8" x2="616.2" y2="1733.3"/>
<line x1="616.2" y1="48.2" x2="616.2" y2="79.7"/>
<line x1="959.3" y1="1764.8" x2="959.3" y2="1733.3"/>
<line x1="959.3" y1="48.2" x2="959.3" y2="79.7"/>
<line x1="1302.5" y1="1764.8" x2="1302.5" y2="1733.3"/>
<line x1="1302.5" y1="48.2" x2="1302.5" y2="79.7"/>
<line x1="1645.6" y1="1764.8" x2="1645.6" y2="1733.3"/>
<line x1="1645.6" y1="48.2" x2="1645.6" y2="79.7"/>
</g>
<g font-family="'Liberation Serif','Times New Roman',serif" font-size="66" fill="#000" stroke="#000" stroke-width="0.7">
<text x="231.5" y="1782.6" text-anchor="end">-20</text>
<text x="231.5" y="1496.5" text-anchor="end">-10</text>
<text x="231.5" y="1210.4" text-anchor="end">0</text>
<text x="231.5" y="924.3" text-anchor="end">10</text>
<text x="231.5" y="638.2" text-anchor="end">20</text>
<text x="231.5" y="352.1" text-anchor="end">30</text>
<text x="231.5" y="66.0" text-anchor="end">40</text>
<text x="271.0" y="1862.5" text-anchor="middle">0</text>
<text x="614.2" y="1862.5" text-anchor="middle">2</text>
<text x="957.3" y="1862.5" text-anchor="middle">4</text>
<text x="1300.5" y="1862.5" text-anchor="middle">6</text>
<text x="1643.6" y="1862.5" text-anchor="middle">8</text>
<text x="1988.8" y="1862.5" text-anchor="middle">10</text>
</g>
<text x="1128" y="1976.5" font-family="'Liberation Serif','Times New Roman',serif" font-size="95" text-anchor="middle" fill="#000" stroke="#000" stroke-width="1">Time (s)</text>
<text transform="translate(94.5,898) rotate(-90)" font-family="'Liberation Serif','Times New Roman',serif" font-size="96" text-anchor="middle" fill="#000" stroke="#000" stroke-width="1">Displacement (mm)</text>
<rect x="1226.4" y="125.2" width="681" height="255" fill="#fff" stroke="#1a1a1a" stroke-width="4.8"/>
<line x1="1262" y1="186.0" x2="1428" y2="186.0" stroke="#1c1cec" stroke-width="5.2"/>
<text x="1443" y="207.9" font-family="'Liberation Serif','Times New Roman',serif" font-size="65" fill="#1c1cec" stroke="#1c1cec" stroke-width="0.7" textLength="436" lengthAdjust="spacingAndGlyphs">Case 3 (12 Layers)</text>
<line x1="1262" y1="253.1" x2="1428" y2="253.1" stroke="#00963c" stroke-width="5.2"/>
<text x="1443" y="275.0" font-family="'Liberation Serif','Times New Roman',serif" font-size="65" fill="#00963c" stroke="#00963c" stroke-width="0.7" textLength="436" lengthAdjust="spacingAndGlyphs">Case 3 (16 Layers)</text>
<line x1="1262" y1="320.0" x2="1428" y2="320.0" stroke="#ff8c1a" stroke-width="5.2"/>
<text x="1443" y="341.7" font-family="'Liberation Serif','Times New Roman',serif" font-size="65" fill="#ff8c1a" stroke="#ff8c1a" stroke-width="0.7" textLength="436" lengthAdjust="spacingAndGlyphs">Case 3 (20 Layers)</text>
</svg>
</body></html>
